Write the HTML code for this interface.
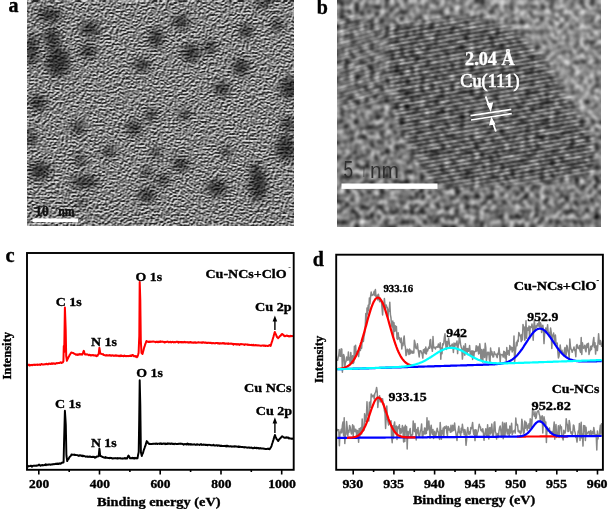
<!DOCTYPE html>
<html><head><meta charset="utf-8"><style>
html,body{margin:0;padding:0;background:#fff;width:608px;height:509px;overflow:hidden}
svg{display:block}
text{font-family:"Liberation Serif","Times New Roman",serif}
</style></head><body>
<svg width="608" height="509" viewBox="0 0 608 509">
<defs>
<filter id="fA" filterUnits="userSpaceOnUse" x="27" y="0" width="267" height="226" color-interpolation-filters="sRGB">
<feTurbulence type="fractalNoise" baseFrequency="0.46 0.58" numOctaves="2" seed="5" result="t"/>
<feColorMatrix in="t" type="matrix" values="1 0 0 0 0  1 0 0 0 0  1 0 0 0 0  0 0 0 0 1" result="g"/>
<feConvolveMatrix in="g" order="3" kernelMatrix="0.8 1 0.3  0.3 0 -0.3  -0.3 -1 -0.8" divisor="1" bias="0.5" preserveAlpha="true" result="e"/>
<feColorMatrix in="e" type="matrix" values="0.72 0 0 0 0.140  0.72 0 0 0 0.140  0.72 0 0 0 0.140  0 0 0 0 1" result="tex"/>
<feGaussianBlur in="SourceGraphic" stdDeviation="3.8" result="bl"/>
<feBlend in="tex" in2="bl" mode="multiply"/>
</filter>
<filter id="fB" filterUnits="userSpaceOnUse" x="337" y="0" width="264" height="227" color-interpolation-filters="sRGB">
<feTurbulence type="fractalNoise" baseFrequency="0.2" numOctaves="2" seed="8" result="t"/>
<feColorMatrix in="t" type="matrix" values="1 0 0 0 0  1 0 0 0 0  1 0 0 0 0  0 0 0 0 1" result="g"/>
<feGaussianBlur in="g" stdDeviation="1.5" result="gb"/>
<feColorMatrix in="gb" type="matrix" values="1.55 0 0 0 -0.300  1.55 0 0 0 -0.300  1.55 0 0 0 -0.300  0 0 0 0 1" result="tex"/>
<feGaussianBlur in="SourceGraphic" stdDeviation="0.6" result="bl"/>
<feBlend in="tex" in2="bl" mode="multiply"/>
</filter>
<filter id="blur3"><feGaussianBlur stdDeviation="3"/></filter>
<filter id="blur8"><feGaussianBlur stdDeviation="8"/></filter>
<clipPath id="clipA"><rect x="27" y="0" width="267" height="226"/></clipPath>
<clipPath id="clipB"><rect x="337" y="0" width="264" height="227"/></clipPath>
</defs>
<rect width="608" height="509" fill="#fff"/>

<g filter="url(#fA)">
<rect x="27" y="0" width="267" height="226" fill="#fff"/>
<ellipse cx="50" cy="15" rx="12" ry="7" fill="#000" opacity="0.6"/>
<ellipse cx="52" cy="38" rx="8" ry="10" fill="#000" opacity="0.6"/>
<ellipse cx="147" cy="173" rx="5" ry="5" fill="#000" opacity="0.6"/>
<ellipse cx="58" cy="62" rx="12" ry="15" fill="#000" opacity="0.6"/>
<ellipse cx="90" cy="29" rx="10" ry="7" fill="#000" opacity="0.6"/>
<ellipse cx="88" cy="51" rx="8" ry="7" fill="#000" opacity="0.6"/>
<ellipse cx="142" cy="65" rx="9" ry="6" fill="#000" opacity="0.6"/>
<ellipse cx="156" cy="38" rx="7" ry="10" fill="#000" opacity="0.6"/>
<ellipse cx="32" cy="50" rx="6" ry="16" fill="#000" opacity="0.6"/>
<ellipse cx="38" cy="103" rx="8" ry="8" fill="#000" opacity="0.6"/>
<ellipse cx="181" cy="22" rx="8" ry="7" fill="#000" opacity="0.6"/>
<ellipse cx="191" cy="53" rx="9" ry="9" fill="#000" opacity="0.6"/>
<ellipse cx="210" cy="47" rx="6" ry="7" fill="#000" opacity="0.6"/>
<ellipse cx="241" cy="67" rx="8" ry="9" fill="#000" opacity="0.6"/>
<ellipse cx="246" cy="31" rx="7" ry="7" fill="#000" opacity="0.6"/>
<ellipse cx="290" cy="88" rx="10" ry="11" fill="#000" opacity="0.6"/>
<ellipse cx="222" cy="89" rx="8" ry="7" fill="#000" opacity="0.6"/>
<ellipse cx="263" cy="3" rx="8" ry="5" fill="#000" opacity="0.6"/>
<ellipse cx="277" cy="25" rx="6" ry="6" fill="#000" opacity="0.6"/>
<ellipse cx="40" cy="171" rx="11" ry="9" fill="#000" opacity="0.6"/>
<ellipse cx="78" cy="128" rx="7" ry="6" fill="#000" opacity="0.6"/>
<ellipse cx="134" cy="128" rx="8" ry="7" fill="#000" opacity="0.6"/>
<ellipse cx="109" cy="152" rx="7" ry="5" fill="#000" opacity="0.6"/>
<ellipse cx="80" cy="160" rx="5" ry="6" fill="#000" opacity="0.6"/>
<ellipse cx="85" cy="182" rx="14" ry="6" fill="#000" opacity="0.6"/>
<ellipse cx="147" cy="195" rx="9" ry="7" fill="#000" opacity="0.6"/>
<ellipse cx="31" cy="138" rx="5" ry="8" fill="#000" opacity="0.6"/>
<ellipse cx="81" cy="203" rx="6" ry="3" fill="#000" opacity="0.6"/>
<ellipse cx="217" cy="188" rx="10" ry="8" fill="#000" opacity="0.6"/>
<ellipse cx="258" cy="185" rx="9" ry="16" fill="#000" opacity="0.6"/>
<ellipse cx="286" cy="148" rx="10" ry="13" fill="#000" opacity="0.6"/>
<ellipse cx="288" cy="124" rx="7" ry="7" fill="#000" opacity="0.6"/>
<ellipse cx="181" cy="164" rx="8" ry="7" fill="#000" opacity="0.6"/>
<ellipse cx="163" cy="180" rx="6" ry="6" fill="#000" opacity="0.6"/>
<ellipse cx="226" cy="152" rx="5" ry="5" fill="#000" opacity="0.6"/>
<ellipse cx="255" cy="168" rx="5" ry="5" fill="#000" opacity="0.6"/>
<ellipse cx="185" cy="115" rx="6" ry="5" fill="#000" opacity="0.6"/>
<ellipse cx="151" cy="115" rx="6" ry="6" fill="#000" opacity="0.6"/>
<ellipse cx="156" cy="153" rx="5" ry="5" fill="#000" opacity="0.6"/>
</g>
<rect x="32.5" y="218.5" width="45.5" height="3.6" fill="#fff"/>
<text x="35.2" y="215.8" font-size="14.5" text-anchor="start" fill="#111" font-weight="bold" stroke="#111" stroke-width="0.3" textLength="13.6" lengthAdjust="spacingAndGlyphs">10</text>
<text x="58.3" y="215.8" font-size="14.5" text-anchor="start" fill="#111" font-weight="bold" stroke="#111" stroke-width="0.3" textLength="16.4" lengthAdjust="spacingAndGlyphs">nm</text>
<filter id="mb" x="-20%" y="-20%" width="140%" height="140%"><feGaussianBlur stdDeviation="4"/></filter>
<mask id="mP" maskUnits="userSpaceOnUse" x="337" y="0" width="264" height="227"><path d="M389,29 L430,22 L468,18 L513,29 L542,56 L563,90 L580,118 L592,140 L592,172 L540,180 L470,185 L432,183 L410,145 L396,115 L388,70 Z" fill="#fff" filter="url(#mb)"/></mask>
<mask id="mL" maskUnits="userSpaceOnUse" x="337" y="0" width="264" height="227"><path d="M337,12 L389,29 L388,70 L393,100 L337,108 Z" fill="#fff" filter="url(#mb)"/></mask>
<g filter="url(#fB)">
<rect x="337" y="0" width="264" height="227" fill="#fff"/>
<g mask="url(#mP)"><rect x="337" y="0" width="264" height="227" fill="#f8f8f8"/>
<path d="M330,-82.0 L610,-129.0 M330,-77.9 L610,-124.9 M330,-73.8 L610,-120.8 M330,-69.7 L610,-116.7 M330,-65.6 L610,-112.6 M330,-61.5 L610,-108.5 M330,-57.4 L610,-104.4 M330,-53.3 L610,-100.3 M330,-49.2 L610,-96.2 M330,-45.1 L610,-92.1 M330,-41.0 L610,-88.0 M330,-36.9 L610,-83.9 M330,-32.8 L610,-79.8 M330,-28.7 L610,-75.7 M330,-24.6 L610,-71.6 M330,-20.5 L610,-67.5 M330,-16.4 L610,-63.4 M330,-12.3 L610,-59.3 M330,-8.2 L610,-55.2 M330,-4.1 L610,-51.1 M330,0.0 L610,-47.0 M330,4.1 L610,-42.9 M330,8.2 L610,-38.8 M330,12.3 L610,-34.7 M330,16.4 L610,-30.6 M330,20.5 L610,-26.5 M330,24.6 L610,-22.4 M330,28.7 L610,-18.3 M330,32.8 L610,-14.2 M330,36.9 L610,-10.1 M330,41.0 L610,-6.0 M330,45.1 L610,-1.9 M330,49.2 L610,2.2 M330,53.3 L610,6.3 M330,57.4 L610,10.4 M330,61.5 L610,14.5 M330,65.6 L610,18.6 M330,69.7 L610,22.7 M330,73.8 L610,26.8 M330,77.9 L610,30.9 M330,82.0 L610,35.0 M330,86.1 L610,39.1 M330,90.2 L610,43.2 M330,94.3 L610,47.3 M330,98.4 L610,51.4 M330,102.5 L610,55.5 M330,106.6 L610,59.6 M330,110.7 L610,63.7 M330,114.8 L610,67.8 M330,118.9 L610,71.9 M330,123.0 L610,76.0 M330,127.1 L610,80.1 M330,131.2 L610,84.2 M330,135.3 L610,88.3 M330,139.4 L610,92.4 M330,143.5 L610,96.5 M330,147.6 L610,100.6 M330,151.7 L610,104.7 M330,155.8 L610,108.8 M330,159.9 L610,112.9 M330,164.0 L610,117.0 M330,168.1 L610,121.1 M330,172.2 L610,125.2 M330,176.3 L610,129.3 M330,180.4 L610,133.4 M330,184.5 L610,137.5 M330,188.6 L610,141.6 M330,192.7 L610,145.7 M330,196.8 L610,149.8 M330,200.9 L610,153.9 M330,205.0 L610,158.0 M330,209.1 L610,162.1 M330,213.2 L610,166.2 M330,217.3 L610,170.3 M330,221.4 L610,174.4 M330,225.5 L610,178.5 M330,229.6 L610,182.6 M330,233.7 L610,186.7 M330,237.8 L610,190.8 M330,241.9 L610,194.9 M330,246.0 L610,199.0 M330,250.1 L610,203.1 M330,254.2 L610,207.2 M330,258.3 L610,211.3 M330,262.4 L610,215.4 M330,266.5 L610,219.5 M330,270.6 L610,223.6 M330,274.7 L610,227.7 M330,278.8 L610,231.8 M330,282.9 L610,235.9 M330,287.0 L610,240.0 M330,291.1 L610,244.1 M330,295.2 L610,248.2 M330,299.3 L610,252.3 M330,303.4 L610,256.4 M330,307.5 L610,260.5 M330,311.6 L610,264.6 M330,315.7 L610,268.7 M330,319.8 L610,272.8 M330,323.9 L610,276.9 M330,328.0 L610,281.0 M330,332.1 L610,285.1 M330,336.2 L610,289.2 M330,340.3 L610,293.3 M330,344.4 L610,297.4 M330,348.5 L610,301.5 M330,352.6 L610,305.6 M330,356.7 L610,309.7 M330,360.8 L610,313.8 M330,364.9 L610,317.9 M330,369.0 L610,322.0 M330,373.1 L610,326.1 M330,377.2 L610,330.2 M330,381.3 L610,334.3 M330,385.4 L610,338.4 M330,389.5 L610,342.5 M330,393.6 L610,346.6 M330,397.7 L610,350.7 M330,401.8 L610,354.8 M330,405.9 L610,358.9 M330,410.0 L610,363.0 M330,414.1 L610,367.1 M330,418.2 L610,371.2 M330,422.3 L610,375.3 M330,426.4 L610,379.4 M330,430.5 L610,383.5 M330,434.6 L610,387.6 M330,438.7 L610,391.7 M330,442.8 L610,395.8 M330,446.9 L610,399.9 M330,451.0 L610,404.0 M330,455.1 L610,408.1 M330,459.2 L610,412.2 M330,463.3 L610,416.3 M330,467.4 L610,420.4 M330,471.5 L610,424.5 M330,475.6 L610,428.6 M330,479.7 L610,432.7 M330,483.8 L610,436.8 M330,487.9 L610,440.9" stroke="#000" stroke-width="2" opacity="0.36" fill="none"/>
</g>
<g mask="url(#mL)">
<path d="M330,-80.0 L610,-155.0 M330,-76.0 L610,-151.0 M330,-72.0 L610,-147.0 M330,-68.0 L610,-143.0 M330,-64.0 L610,-139.0 M330,-60.0 L610,-135.0 M330,-56.0 L610,-131.0 M330,-52.0 L610,-127.0 M330,-48.0 L610,-123.0 M330,-44.0 L610,-119.0 M330,-40.0 L610,-115.0 M330,-36.0 L610,-111.0 M330,-32.0 L610,-107.0 M330,-28.0 L610,-103.0 M330,-24.0 L610,-99.0 M330,-20.0 L610,-95.0 M330,-16.0 L610,-91.0 M330,-12.0 L610,-87.0 M330,-8.0 L610,-83.0 M330,-4.0 L610,-79.0 M330,0.0 L610,-75.0 M330,4.0 L610,-71.0 M330,8.0 L610,-67.0 M330,12.0 L610,-63.0 M330,16.0 L610,-59.0 M330,20.0 L610,-55.0 M330,24.0 L610,-51.0 M330,28.0 L610,-47.0 M330,32.0 L610,-43.0 M330,36.0 L610,-39.0 M330,40.0 L610,-35.0 M330,44.0 L610,-31.0 M330,48.0 L610,-27.0 M330,52.0 L610,-23.0 M330,56.0 L610,-19.0 M330,60.0 L610,-15.0 M330,64.0 L610,-11.0 M330,68.0 L610,-7.0 M330,72.0 L610,-3.0 M330,76.0 L610,1.0 M330,80.0 L610,5.0 M330,84.0 L610,9.0 M330,88.0 L610,13.0 M330,92.0 L610,17.0 M330,96.0 L610,21.0 M330,100.0 L610,25.0 M330,104.0 L610,29.0 M330,108.0 L610,33.0 M330,112.0 L610,37.0 M330,116.0 L610,41.0 M330,120.0 L610,45.0 M330,124.0 L610,49.0 M330,128.0 L610,53.0 M330,132.0 L610,57.0 M330,136.0 L610,61.0 M330,140.0 L610,65.0 M330,144.0 L610,69.0 M330,148.0 L610,73.0 M330,152.0 L610,77.0 M330,156.0 L610,81.0 M330,160.0 L610,85.0 M330,164.0 L610,89.0 M330,168.0 L610,93.0 M330,172.0 L610,97.0 M330,176.0 L610,101.0 M330,180.0 L610,105.0 M330,184.0 L610,109.0 M330,188.0 L610,113.0 M330,192.0 L610,117.0 M330,196.0 L610,121.0 M330,200.0 L610,125.0 M330,204.0 L610,129.0 M330,208.0 L610,133.0 M330,212.0 L610,137.0 M330,216.0 L610,141.0 M330,220.0 L610,145.0 M330,224.0 L610,149.0 M330,228.0 L610,153.0 M330,232.0 L610,157.0 M330,236.0 L610,161.0 M330,240.0 L610,165.0 M330,244.0 L610,169.0 M330,248.0 L610,173.0 M330,252.0 L610,177.0 M330,256.0 L610,181.0 M330,260.0 L610,185.0 M330,264.0 L610,189.0 M330,268.0 L610,193.0 M330,272.0 L610,197.0 M330,276.0 L610,201.0 M330,280.0 L610,205.0 M330,284.0 L610,209.0 M330,288.0 L610,213.0 M330,292.0 L610,217.0 M330,296.0 L610,221.0 M330,300.0 L610,225.0 M330,304.0 L610,229.0 M330,308.0 L610,233.0 M330,312.0 L610,237.0 M330,316.0 L610,241.0 M330,320.0 L610,245.0 M330,324.0 L610,249.0 M330,328.0 L610,253.0 M330,332.0 L610,257.0 M330,336.0 L610,261.0 M330,340.0 L610,265.0 M330,344.0 L610,269.0 M330,348.0 L610,273.0 M330,352.0 L610,277.0 M330,356.0 L610,281.0 M330,360.0 L610,285.0 M330,364.0 L610,289.0 M330,368.0 L610,293.0 M330,372.0 L610,297.0 M330,376.0 L610,301.0 M330,380.0 L610,305.0 M330,384.0 L610,309.0 M330,388.0 L610,313.0 M330,392.0 L610,317.0 M330,396.0 L610,321.0 M330,400.0 L610,325.0 M330,404.0 L610,329.0 M330,408.0 L610,333.0 M330,412.0 L610,337.0 M330,416.0 L610,341.0 M330,420.0 L610,345.0 M330,424.0 L610,349.0 M330,428.0 L610,353.0 M330,432.0 L610,357.0 M330,436.0 L610,361.0 M330,440.0 L610,365.0 M330,444.0 L610,369.0 M330,448.0 L610,373.0 M330,452.0 L610,377.0 M330,456.0 L610,381.0 M330,460.0 L610,385.0 M330,464.0 L610,389.0 M330,468.0 L610,393.0 M330,472.0 L610,397.0 M330,476.0 L610,401.0" stroke="#000" stroke-width="1.8" opacity="0.12" fill="none"/>
</g>
</g>
<g clip-path="url(#clipB)" filter="url(#blur8)" opacity="0.16"><path d="M520,0 L601,0 L601,130 L575,120 L560,85 L535,50 L510,22 L420,15 L400,0 Z" fill="#fff"/></g>
<rect x="341.5" y="183.5" width="96" height="5.4" fill="#fff"/>
<text x="343.6" y="178" font-size="23" fill="#303030" textLength="9.6" lengthAdjust="spacingAndGlyphs" style="font-family:'Liberation Sans',sans-serif">5</text>
<path d="M364,167 L363.7,177" stroke="#333" stroke-width="1.4" opacity="0.4"/>
<text x="370" y="178" font-size="22.7" fill="#303030" textLength="29" lengthAdjust="spacingAndGlyphs" style="font-family:'Liberation Sans',sans-serif">nm</text>
<path d="M470.5,115.6 L511.3,109.4 M471,120 L511.8,113.6" stroke="#fff" stroke-width="1.7"/>
<path d="M485.6,96.4 L489.6,107 M495.9,131.5 L492.2,121" stroke="#fff" stroke-width="1.8"/>
<path d="M486.6,103.5 L490.8,112 L493.2,102.2 Z M489,125.5 L491.3,116.6 L495.6,124.4 Z" fill="#fff"/>
<text x="465.1" y="65.3" font-size="18" text-anchor="start" fill="#fff" font-weight="bold" stroke="#fff" stroke-width="0.35" textLength="49.4" lengthAdjust="spacingAndGlyphs">2.04 Å</text>
<text x="460.3" y="87.1" font-size="19" text-anchor="start" fill="#fff" font-weight="normal" stroke="#fff" stroke-width="0.7" textLength="59.4" lengthAdjust="spacingAndGlyphs">Cu(111)</text>
<text x="8.6" y="12.1" font-size="20" text-anchor="start" fill="#000" font-weight="bold" stroke="#000" stroke-width="0.35" >a</text>
<text x="316.8" y="13.6" font-size="20" text-anchor="start" fill="#000" font-weight="bold" stroke="#000" stroke-width="0.35" >b</text>
<text x="5.6" y="261.6" font-size="20.5" text-anchor="start" fill="#000" font-weight="bold" stroke="#000" stroke-width="0.35" >c</text>
<text x="312.8" y="265.8" font-size="20" text-anchor="start" fill="#000" font-weight="bold" stroke="#000" stroke-width="0.35" >d</text>
<polyline points="27.5,365.2 28.0,365.0 28.5,365.0 29.0,364.6 29.5,365.5 30.0,365.3 30.5,365.0 31.0,365.2 31.5,365.1 32.0,364.8 32.5,365.2 33.0,364.9 33.5,364.8 34.0,364.7 34.5,365.0 35.0,364.8 35.5,364.9 36.0,364.7 36.5,364.8 37.0,364.5 37.5,364.9 38.0,364.7 38.5,364.7 39.0,364.7 39.5,364.4 40.0,364.6 40.5,365.0 41.0,364.2 41.5,364.1 42.0,364.1 42.5,364.6 43.0,364.4 43.5,364.6 44.0,364.4 44.5,364.3 45.0,364.3 45.5,364.1 46.0,364.3 46.5,363.8 47.0,363.9 47.5,364.1 48.0,364.4 48.5,363.8 49.0,363.6 49.5,363.7 50.0,364.0 50.5,363.7 51.0,364.0 51.5,363.3 52.0,363.9 52.5,363.8 53.0,363.2 53.5,363.6 54.0,363.7 54.5,363.5 55.0,363.4 55.5,363.9 56.0,363.4 56.5,363.2 57.0,363.0 57.5,363.3 58.0,363.0 58.5,363.0 59.0,363.0 59.5,363.1 60.0,362.6 60.5,362.5 61.0,362.2 61.5,363.0 62.0,362.7 62.5,362.6 63.0,362.0 63.4,361.5 63.5,357.7 63.8,346.0 64.0,348.7 64.2,352.0 64.5,333.3 64.9,307.5 65.0,310.4 65.5,324.3 65.7,330.0 66.0,345.8 66.2,356.0 66.5,357.9 66.9,360.8 67.0,360.4 67.5,359.4 68.0,358.4 68.5,357.0 69.0,356.5 69.5,355.2 70.0,354.6 70.5,353.6 71.0,352.9 71.2,352.6 71.5,352.6 72.0,352.7 72.5,352.9 73.0,353.1 73.5,353.1 74.0,353.6 74.5,353.9 75.0,354.1 75.5,354.2 76.0,354.8 76.5,354.5 77.0,354.6 77.5,355.0 78.0,354.3 78.5,354.7 79.0,354.2 79.5,354.5 80.0,353.9 80.5,354.5 81.0,354.3 81.5,354.1 82.0,354.6 82.5,354.2 83.0,352.9 83.5,351.4 83.8,350.8 84.0,351.4 84.5,353.1 85.0,354.4 85.5,354.3 86.0,354.4 86.5,354.5 87.0,354.3 87.5,354.6 88.0,354.7 88.5,355.0 89.0,355.2 89.5,354.8 90.0,355.0 90.5,355.0 91.0,355.6 91.5,355.1 92.0,355.3 92.5,355.1 93.0,355.1 93.5,355.4 94.0,355.3 94.5,355.6 95.0,355.2 95.5,355.7 96.0,355.4 96.5,356.1 97.0,355.7 97.5,355.8 98.0,354.7 98.5,354.4 98.7,354.0 99.0,351.2 99.4,347.8 99.5,348.4 100.0,351.9 100.2,353.2 100.5,353.5 101.0,353.7 101.5,354.0 102.0,354.0 102.5,354.3 103.0,354.1 103.5,354.9 104.0,354.9 104.5,355.1 105.0,355.3 105.5,355.5 106.0,355.4 106.5,355.1 107.0,355.4 107.5,355.5 108.0,355.2 108.5,355.6 109.0,355.5 109.5,355.0 110.0,355.5 110.5,355.2 111.0,355.7 111.5,355.7 112.0,355.3 112.5,355.3 113.0,355.6 113.5,355.5 114.0,355.9 114.5,355.7 115.0,355.6 115.5,355.7 116.0,355.2 116.5,355.7 117.0,355.9 117.5,355.7 118.0,355.6 118.5,355.9 119.0,356.2 119.5,355.8 120.0,355.6 120.5,356.1 121.0,355.4 121.5,356.0 122.0,355.8 122.5,356.1 123.0,355.7 123.5,356.2 124.0,356.0 124.5,355.6 125.0,356.0 125.5,355.9 126.0,356.3 126.5,356.0 127.0,356.0 127.5,355.9 128.0,356.2 128.5,356.1 129.0,356.1 129.5,355.8 130.0,356.0 130.5,356.1 131.0,355.4 131.5,356.0 132.0,355.5 132.5,355.1 133.0,355.0 133.5,355.7 134.0,356.2 134.5,356.1 135.0,355.9 135.5,356.6 136.0,356.2 136.5,356.3 137.0,357.1 137.5,356.5 138.0,355.1 138.5,353.2 138.6,353.0 139.0,342.8 139.3,336.0 139.5,308.8 139.7,282.0 140.0,290.7 140.3,300.0 140.5,316.0 140.8,340.0 141.0,343.9 141.5,353.0 142.0,353.2 142.5,354.0 143.0,351.9 143.5,350.2 144.0,348.0 144.5,346.7 145.0,344.9 145.5,343.7 146.0,342.2 146.5,341.0 147.0,341.7 147.5,341.7 148.0,341.6 148.5,342.0 149.0,342.0 149.5,341.6 150.0,342.0 150.5,341.6 151.0,341.8 151.5,341.6 152.0,341.8 152.5,341.5 153.0,341.5 153.5,341.6 154.0,341.7 154.5,341.8 155.0,341.8 155.5,342.2 156.0,342.0 156.5,341.8 157.0,342.0 157.5,341.7 158.0,342.2 158.5,342.0 159.0,341.6 159.5,342.0 160.0,342.1 160.5,341.3 161.0,341.7 161.5,341.8 162.0,341.5 162.5,341.7 163.0,341.7 163.5,342.0 164.0,342.0 164.5,342.5 165.0,341.9 165.5,342.2 166.0,342.0 166.5,342.0 167.0,341.7 167.5,341.6 168.0,341.8 168.5,342.2 169.0,342.3 169.5,342.1 170.0,342.0 170.5,341.8 171.0,342.4 171.5,342.3 172.0,341.9 172.5,342.0 173.0,341.8 173.5,342.4 174.0,342.2 174.5,342.1 175.0,342.2 175.5,342.2 176.0,342.0 176.5,341.8 177.0,341.8 177.5,341.7 178.0,342.2 178.5,342.6 179.0,341.8 179.5,342.2 180.0,342.3 180.5,342.0 181.0,342.2 181.5,342.0 182.0,342.5 182.5,342.1 183.0,342.2 183.5,342.4 184.0,342.1 184.5,341.8 185.0,342.1 185.5,342.4 186.0,342.2 186.5,342.3 187.0,342.0 187.5,342.3 188.0,342.5 188.5,342.3 189.0,342.7 189.5,342.3 190.0,342.1 190.5,342.0 191.0,342.6 191.5,342.3 192.0,342.6 192.5,342.5 193.0,342.7 193.5,342.7 194.0,342.3 194.5,342.5 195.0,342.7 195.5,342.2 196.0,342.8 196.5,342.7 197.0,342.7 197.5,342.4 198.0,342.5 198.5,342.2 199.0,342.5 199.5,342.4 200.0,342.5 200.5,342.4 201.0,342.6 201.5,342.8 202.0,342.3 202.5,342.8 203.0,342.2 203.5,342.2 204.0,342.6 204.5,342.7 205.0,342.8 205.5,342.4 206.0,342.7 206.5,342.8 207.0,343.1 207.5,342.8 208.0,343.0 208.5,342.7 209.0,342.8 209.5,342.8 210.0,343.1 210.5,342.7 211.0,342.8 211.5,343.1 212.0,343.4 212.5,343.1 213.0,343.1 213.5,343.0 214.0,343.3 214.5,343.2 215.0,343.5 215.5,343.2 216.0,343.0 216.5,343.1 217.0,343.0 217.5,343.0 218.0,343.6 218.5,343.5 219.0,343.1 219.5,343.7 220.0,343.4 220.5,343.2 221.0,343.5 221.5,343.4 222.0,343.3 222.5,343.0 223.0,343.5 223.5,343.6 224.0,343.0 224.5,343.7 225.0,343.7 225.5,343.5 226.0,343.7 226.5,343.6 227.0,343.5 227.5,343.6 228.0,344.0 228.5,343.4 229.0,343.8 229.5,343.8 230.0,343.8 230.5,343.7 231.0,343.5 231.5,343.7 232.0,343.9 232.5,344.0 233.0,343.8 233.5,344.7 234.0,343.9 234.5,344.1 235.0,344.0 235.5,344.0 236.0,344.4 236.5,344.1 237.0,344.5 237.5,344.5 238.0,344.0 238.5,344.5 239.0,344.2 239.5,344.9 240.0,344.3 240.5,344.2 241.0,344.0 241.5,344.2 242.0,344.3 242.5,344.3 243.0,344.3 243.5,344.4 244.0,344.5 244.5,344.9 245.0,344.3 245.5,344.5 246.0,344.5 246.5,344.4 247.0,344.5 247.5,344.6 248.0,345.0 248.5,344.8 249.0,344.7 249.5,345.0 250.0,345.0 250.5,344.9 251.0,345.1 251.5,344.8 252.0,345.2 252.5,345.2 253.0,345.0 253.5,344.8 254.0,345.5 254.5,345.2 255.0,345.2 255.5,345.1 256.0,345.4 256.5,345.2 257.0,345.4 257.5,345.5 258.0,345.2 258.5,345.4 259.0,345.5 259.5,345.5 260.0,345.6 260.5,345.8 261.0,345.8 261.5,345.7 262.0,345.6 262.5,345.4 263.0,345.5 263.5,345.6 264.0,345.9 264.5,345.7 265.0,345.5 265.5,346.0 266.0,345.7 266.5,345.7 267.0,345.9 267.5,346.1 268.0,346.0 268.5,345.4 269.0,345.4 269.5,345.0 270.0,345.3 270.5,346.0 271.0,344.8 271.5,342.9 272.0,341.7 272.5,340.0 273.0,338.2 273.5,336.6 274.0,334.7 274.5,332.9 274.8,332.0 275.0,332.7 275.5,333.6 276.0,334.7 276.5,336.0 277.0,337.0 277.5,337.5 278.0,337.9 278.2,338.2 278.5,337.5 279.0,337.3 279.5,336.7 280.0,336.0 280.5,335.8 281.0,335.3 281.5,334.4 282.0,334.1 282.2,334.0 282.5,334.3 283.0,334.7 283.5,334.8 284.0,335.9 284.5,336.0 285.0,336.2 285.5,336.1 286.0,335.7 286.5,335.7 287.0,335.5 287.5,335.9 288.0,336.0 288.5,336.1 289.0,336.5 289.5,336.3 290.0,336.3 290.5,335.9 291.0,336.3 291.5,336.0 292.0,336.0 292.5,336.1 293.0,336.0" fill="none" stroke="#ff0000" stroke-width="2" stroke-linejoin="round"/>
<polyline points="27.5,466.8 28.0,465.8 28.5,466.4 29.0,466.1 29.5,466.1 30.0,466.1 30.5,465.7 31.0,466.0 31.5,465.8 32.0,466.7 32.5,466.0 33.0,465.8 33.5,465.8 34.0,465.7 34.5,465.6 35.0,465.7 35.5,465.8 36.0,465.6 36.5,465.8 37.0,465.5 37.5,465.5 38.0,465.5 38.5,465.2 39.0,464.6 39.5,465.0 40.0,465.4 40.5,465.8 41.0,465.3 41.5,465.2 42.0,465.4 42.5,465.0 43.0,465.1 43.5,465.3 44.0,465.2 44.5,465.0 45.0,465.1 45.5,464.3 46.0,465.1 46.5,464.6 47.0,464.4 47.5,464.8 48.0,464.8 48.5,464.5 49.0,464.4 49.5,464.6 50.0,464.5 50.5,464.8 51.0,464.6 51.5,464.4 52.0,464.6 52.5,464.3 53.0,464.1 53.5,464.3 54.0,464.3 54.5,464.1 55.0,463.9 55.5,464.1 56.0,463.5 56.5,464.1 57.0,464.0 57.5,463.5 58.0,463.9 58.5,463.6 59.0,463.9 59.5,463.3 60.0,463.5 60.5,463.8 61.0,463.6 61.5,462.8 62.0,462.9 62.5,462.7 63.0,462.2 63.5,462.4 63.6,462.0 64.0,444.5 64.1,440.0 64.5,425.7 64.9,410.7 65.0,412.2 65.5,419.9 65.8,425.0 66.0,435.2 66.4,455.0 66.5,456.0 67.0,459.6 67.2,461.0 67.5,460.3 68.0,459.5 68.5,459.1 69.0,458.0 69.5,457.2 70.0,456.6 70.5,456.1 71.0,455.6 71.5,454.5 71.8,454.4 72.0,454.4 72.5,454.8 73.0,454.7 73.5,454.7 74.0,454.6 74.5,454.9 75.0,454.8 75.5,455.1 76.0,455.0 76.5,455.1 77.0,455.1 77.5,455.3 78.0,455.3 78.5,455.9 79.0,455.8 79.5,455.8 80.0,455.1 80.5,455.6 81.0,455.6 81.5,455.9 82.0,455.4 82.5,456.2 83.0,456.2 83.5,455.8 84.0,455.9 84.5,456.1 85.0,456.3 85.5,456.5 86.0,456.8 86.5,456.4 87.0,456.6 87.5,456.5 88.0,456.9 88.5,456.7 89.0,456.9 89.5,456.4 90.0,456.7 90.5,456.6 91.0,457.1 91.5,457.0 92.0,456.8 92.5,456.8 93.0,457.1 93.5,456.8 94.0,456.8 94.5,457.2 95.0,457.7 95.5,457.1 96.0,457.2 96.5,456.7 97.0,456.5 97.5,456.6 98.0,456.5 98.5,456.1 98.7,456.0 99.0,452.9 99.4,448.6 99.5,449.2 100.0,454.0 100.2,456.0 100.5,455.9 101.0,456.2 101.5,456.3 102.0,456.6 102.5,457.1 103.0,457.0 103.5,457.3 104.0,457.5 104.5,457.7 105.0,457.9 105.5,457.1 106.0,457.8 106.5,457.6 107.0,457.7 107.5,457.9 108.0,458.0 108.5,458.0 109.0,457.9 109.5,458.2 110.0,457.8 110.5,457.9 111.0,458.1 111.5,457.9 112.0,458.5 112.5,458.3 113.0,458.6 113.5,458.1 114.0,458.1 114.5,458.2 115.0,458.2 115.5,458.1 116.0,458.3 116.5,458.2 117.0,458.6 117.5,458.1 118.0,458.5 118.5,458.1 119.0,458.1 119.5,458.2 120.0,458.1 120.5,458.4 121.0,458.6 121.5,458.4 122.0,458.5 122.5,458.7 123.0,458.5 123.5,458.5 124.0,458.4 124.5,458.1 125.0,458.6 125.5,458.1 126.0,458.6 126.5,458.5 127.0,458.5 127.5,457.5 128.0,456.3 128.5,455.5 129.0,456.3 129.5,457.3 130.0,458.3 130.5,458.3 131.0,458.3 131.5,458.1 132.0,458.3 132.5,457.8 133.0,458.3 133.5,458.0 134.0,458.5 134.5,458.6 135.0,457.9 135.5,458.3 136.0,458.3 136.5,458.1 137.0,458.4 137.5,458.3 138.0,455.3 138.5,453.0 138.7,452.0 139.0,432.8 139.2,420.0 139.5,396.3 139.7,380.3 140.0,392.4 140.3,405.0 140.5,420.6 140.9,452.0 141.0,452.8 141.5,454.7 141.8,456.0 142.0,455.2 142.5,453.9 143.0,453.0 143.5,451.0 144.0,449.5 144.5,448.1 145.0,446.5 145.5,445.5 146.0,443.4 146.5,442.2 146.8,441.1 147.0,441.5 147.5,441.8 148.0,443.1 148.5,443.3 149.0,444.0 149.5,443.8 150.0,443.8 150.5,444.0 151.0,444.1 151.5,444.0 152.0,444.1 152.5,443.9 153.0,443.7 153.5,443.9 154.0,443.8 154.5,443.6 155.0,443.6 155.5,443.9 156.0,443.7 156.5,443.5 157.0,443.8 157.5,444.0 158.0,443.6 158.5,443.6 159.0,443.6 159.5,443.9 160.0,443.3 160.5,443.7 161.0,443.9 161.5,443.5 162.0,444.0 162.5,443.8 163.0,443.6 163.5,443.7 164.0,443.4 164.5,443.6 165.0,444.1 165.5,443.5 166.0,444.1 166.5,443.7 167.0,444.0 167.5,443.8 168.0,443.3 168.5,443.6 169.0,443.8 169.5,443.5 170.0,443.5 170.5,443.9 171.0,443.6 171.5,443.4 172.0,443.7 172.5,444.0 173.0,443.7 173.5,444.0 174.0,444.2 174.5,443.8 175.0,443.6 175.5,443.6 176.0,443.8 176.5,444.1 177.0,443.9 177.5,444.0 178.0,443.8 178.5,443.9 179.0,443.8 179.5,443.8 180.0,443.9 180.5,443.6 181.0,443.8 181.5,443.7 182.0,443.8 182.5,444.1 183.0,444.0 183.5,444.7 184.0,444.3 184.5,443.9 185.0,444.3 185.5,444.2 186.0,444.0 186.5,444.4 187.0,444.0 187.5,443.5 188.0,444.4 188.5,444.1 189.0,444.6 189.5,444.1 190.0,444.0 190.5,444.6 191.0,444.1 191.5,444.4 192.0,444.7 192.5,444.4 193.0,444.4 193.5,444.4 194.0,444.6 194.5,444.3 195.0,444.6 195.5,444.6 196.0,445.0 196.5,444.4 197.0,444.3 197.5,444.7 198.0,444.5 198.5,444.6 199.0,444.6 199.5,444.9 200.0,444.5 200.5,444.6 201.0,444.1 201.5,444.5 202.0,445.0 202.5,444.6 203.0,444.6 203.5,444.5 204.0,444.9 204.5,444.8 205.0,444.6 205.5,445.0 206.0,444.9 206.5,445.0 207.0,444.7 207.5,445.3 208.0,445.0 208.5,444.9 209.0,444.8 209.5,444.9 210.0,445.0 210.5,445.0 211.0,445.3 211.5,445.2 212.0,445.4 212.5,445.3 213.0,445.2 213.5,444.8 214.0,445.3 214.5,445.5 215.0,445.4 215.5,445.5 216.0,445.3 216.5,445.3 217.0,445.2 217.5,445.8 218.0,445.5 218.5,445.4 219.0,445.3 219.5,445.6 220.0,446.0 220.5,445.8 221.0,445.5 221.5,446.0 222.0,446.1 222.5,446.0 223.0,446.0 223.5,446.1 224.0,446.0 224.5,446.1 225.0,445.8 225.5,446.3 226.0,446.1 226.5,446.5 227.0,445.6 227.5,446.3 228.0,446.4 228.5,446.1 229.0,446.3 229.5,446.4 230.0,446.4 230.5,446.2 231.0,446.3 231.5,446.6 232.0,446.7 232.5,446.4 233.0,446.5 233.5,446.5 234.0,446.7 234.5,446.3 235.0,446.3 235.5,446.6 236.0,446.4 236.5,446.5 237.0,446.7 237.5,446.8 238.0,446.5 238.5,447.0 239.0,446.4 239.5,447.0 240.0,446.9 240.5,446.7 241.0,447.1 241.5,446.9 242.0,446.9 242.5,447.0 243.0,447.2 243.5,447.1 244.0,447.2 244.5,447.5 245.0,447.1 245.5,447.2 246.0,447.2 246.5,447.6 247.0,447.6 247.5,447.7 248.0,447.5 248.5,447.5 249.0,447.7 249.5,447.5 250.0,447.8 250.5,447.8 251.0,447.5 251.5,447.7 252.0,447.7 252.5,448.2 253.0,448.4 253.5,447.9 254.0,447.9 254.5,447.5 255.0,448.0 255.5,448.0 256.0,447.8 256.5,448.3 257.0,447.8 257.5,448.1 258.0,448.2 258.5,448.0 259.0,448.5 259.5,448.6 260.0,448.0 260.5,448.1 261.0,448.6 261.5,448.5 262.0,448.5 262.5,448.5 263.0,448.5 263.5,448.5 264.0,448.8 264.5,448.7 265.0,449.0 265.5,449.0 266.0,448.9 266.5,449.0 267.0,449.0 267.5,448.9 268.0,448.5 268.5,449.0 269.0,448.9 269.5,449.2 269.8,448.9 270.0,448.7 270.5,447.8 271.0,447.2 271.5,446.0 272.0,444.3 272.5,442.8 273.0,441.1 273.5,439.6 274.0,437.9 274.5,436.4 274.9,435.0 275.0,435.2 275.5,436.5 276.0,437.7 276.5,439.0 277.0,439.3 277.5,440.0 278.0,440.8 278.2,441.0 278.5,440.6 279.0,439.8 279.5,439.0 280.0,438.5 280.5,438.3 281.0,437.5 281.5,436.9 282.0,436.3 282.5,436.4 283.0,436.8 283.5,437.1 284.0,437.6 284.5,437.8 285.0,437.4 285.5,437.8 286.0,437.9 286.5,437.3 287.0,437.3 287.5,437.6 288.0,437.9 288.5,437.6 289.0,438.5 289.5,438.2 290.0,438.5 290.5,438.6 291.0,438.5 291.5,438.7 292.0,439.0 292.5,438.6 293.0,438.9" fill="none" stroke="#000" stroke-width="1.95" stroke-linejoin="round"/>
<rect x="27" y="253" width="266.7" height="216.8" fill="none" stroke="#000" stroke-width="1.9"/>
<path d="M38.8,469.8 L38.8,474.40000000000003 M69.2,469.8 L69.2,472.0 M99.5,469.8 L99.5,474.40000000000003 M129.9,469.8 L129.9,472.0 M160.2,469.8 L160.2,474.40000000000003 M190.6,469.8 L190.6,472.0 M221.0,469.8 L221.0,474.40000000000003 M251.3,469.8 L251.3,472.0 M281.7,469.8 L281.7,474.40000000000003" stroke="#000" stroke-width="1.6"/>
<text x="29.0" y="487.7" font-size="13" text-anchor="start" fill="#000" font-weight="bold" stroke="#000" stroke-width="0.35" textLength="20.2" lengthAdjust="spacingAndGlyphs">200</text>
<text x="89.7" y="487.7" font-size="13" text-anchor="start" fill="#000" font-weight="bold" stroke="#000" stroke-width="0.35" textLength="20.2" lengthAdjust="spacingAndGlyphs">400</text>
<text x="150.4" y="487.7" font-size="13" text-anchor="start" fill="#000" font-weight="bold" stroke="#000" stroke-width="0.35" textLength="20.2" lengthAdjust="spacingAndGlyphs">600</text>
<text x="211.2" y="487.7" font-size="13" text-anchor="start" fill="#000" font-weight="bold" stroke="#000" stroke-width="0.35" textLength="20.2" lengthAdjust="spacingAndGlyphs">800</text>
<text x="268.2" y="487.7" font-size="13" text-anchor="start" fill="#000" font-weight="bold" stroke="#000" stroke-width="0.35" textLength="27.6" lengthAdjust="spacingAndGlyphs">1000</text>
<text x="96.9" y="506.3" font-size="13.5" text-anchor="start" fill="#000" font-weight="bold" stroke="#000" stroke-width="0.35" textLength="123.7" lengthAdjust="spacingAndGlyphs">Binding energy (eV)</text>
<text x="10.8" y="355.7" font-size="13.5" text-anchor="middle" fill="#000" font-weight="bold" stroke="#000" stroke-width="0.35" transform="rotate(-90 10.8 355.7)" textLength="47.7" lengthAdjust="spacingAndGlyphs">Intensity</text>
<text x="55.8" y="305.7" font-size="13.5" text-anchor="start" fill="#000" font-weight="bold" stroke="#000" stroke-width="0.35" textLength="26" lengthAdjust="spacingAndGlyphs">C 1s</text>
<text x="91" y="346" font-size="13.5" text-anchor="start" fill="#000" font-weight="bold" stroke="#000" stroke-width="0.35" textLength="26" lengthAdjust="spacingAndGlyphs">N 1s</text>
<text x="135.6" y="280.9" font-size="13.5" text-anchor="start" fill="#000" font-weight="bold" stroke="#000" stroke-width="0.35" textLength="26.6" lengthAdjust="spacingAndGlyphs">O 1s</text>
<text x="205.5" y="278" font-size="13.5" text-anchor="start" fill="#000" font-weight="bold" stroke="#000" stroke-width="0.35" textLength="81.1" lengthAdjust="spacingAndGlyphs">Cu-NCs+ClO</text>
<text x="288.6" y="269" font-size="6.5" text-anchor="start" fill="#000" font-weight="bold" stroke="#000" stroke-width="0.2" >-</text>
<text x="255" y="310.8" font-size="13.5" text-anchor="start" fill="#000" font-weight="bold" stroke="#000" stroke-width="0.35" textLength="36.6" lengthAdjust="spacingAndGlyphs">Cu 2p</text>
<text x="55" y="408.4" font-size="13.5" text-anchor="start" fill="#000" font-weight="bold" stroke="#000" stroke-width="0.35" textLength="26" lengthAdjust="spacingAndGlyphs">C 1s</text>
<text x="90.9" y="446.8" font-size="13.5" text-anchor="start" fill="#000" font-weight="bold" stroke="#000" stroke-width="0.35" textLength="25.8" lengthAdjust="spacingAndGlyphs">N 1s</text>
<text x="136.2" y="376.8" font-size="13.5" text-anchor="start" fill="#000" font-weight="bold" stroke="#000" stroke-width="0.35" textLength="26.6" lengthAdjust="spacingAndGlyphs">O 1s</text>
<text x="244" y="392.2" font-size="13.5" text-anchor="start" fill="#000" font-weight="bold" stroke="#000" stroke-width="0.35" textLength="47.6" lengthAdjust="spacingAndGlyphs">Cu NCs</text>
<text x="255.8" y="415" font-size="13.5" text-anchor="start" fill="#000" font-weight="bold" stroke="#000" stroke-width="0.35" textLength="36.4" lengthAdjust="spacingAndGlyphs">Cu 2p</text>
<path d="M274.9,330 L274.9,320 M274.9,433 L274.9,422" stroke="#000" stroke-width="1.4"/>
<path d="M272.6,321.5 L274.9,315.5 L277.2,321.5 Z M272.6,423.5 L274.9,417.3 L277.2,423.5 Z" fill="#000"/>
<polyline points="337.0,360.2 337.6,360.3 338.2,357.1 338.8,355.1 339.4,349.4 340.0,356.1 340.6,356.3 341.2,348.8 341.8,349.1 342.4,372.3 343.0,358.2 343.6,354.4 344.2,356.5 344.8,367.1 345.4,362.6 346.0,361.6 346.6,357.1 347.2,358.3 347.8,360.2 348.4,351.9 349.0,359.8 349.6,357.7 350.2,364.7 350.8,352.5 351.4,360.7 352.0,363.4 352.6,355.8 353.2,363.4 353.8,362.4 354.4,346.2 355.0,358.8 355.6,345.2 356.2,355.8 356.8,354.7 357.4,351.5 358.0,352.5 358.6,356.6 359.2,350.8 359.8,346.5 360.4,350.5 361.0,346.6 361.6,348.3 362.2,340.6 362.8,339.3 363.4,341.5 364.0,336.0 364.6,333.6 365.2,327.7 365.8,313.6 366.4,326.2 367.0,308.0 367.6,314.1 368.2,305.3 368.8,310.4 369.4,297.9 370.0,304.0 370.6,296.2 371.2,292.1 371.8,295.6 372.4,294.7 373.0,295.1 373.6,293.5 374.2,291.3 374.8,295.5 375.4,289.5 376.0,296.6 376.6,296.7 377.2,295.2 377.8,299.9 378.4,294.2 379.0,297.2 379.6,301.7 380.2,298.2 380.8,301.5 381.4,300.9 382.0,307.8 382.6,314.9 383.2,303.4 383.8,305.1 384.4,298.6 385.0,305.6 385.6,308.7 386.2,304.9 386.8,307.0 387.4,307.8 388.0,317.8 388.6,309.2 389.2,311.4 389.8,302.3 390.4,314.6 391.0,318.0 391.6,325.7 392.2,327.0 392.8,321.0 393.4,337.1 394.0,322.7 394.6,331.3 395.2,325.7 395.8,330.7 396.4,326.4 397.0,338.6 397.6,339.4 398.2,332.8 398.8,338.7 399.4,337.6 400.0,340.9 400.6,342.6 401.2,338.1 401.8,349.0 402.4,343.4 403.0,345.6 403.6,339.2 404.2,336.0 404.8,344.6 405.4,347.1 406.0,355.6 406.6,354.4 407.2,349.3 407.8,349.4 408.4,351.3 409.0,354.5 409.6,349.1 410.2,353.7 410.8,350.2 411.4,351.8 412.0,353.3 412.6,351.2 413.2,352.9 413.8,353.0 414.4,340.2 415.0,342.8 415.6,347.4 416.2,348.7 416.8,348.6 417.4,343.8 418.0,348.9 418.6,352.6 419.2,356.9 419.8,350.8 420.4,350.8 421.0,351.0 421.6,352.9 422.2,354.0 422.8,358.1 423.4,349.7 424.0,352.2 424.6,348.9 425.2,353.5 425.8,347.0 426.4,354.0 427.0,349.2 427.6,351.0 428.2,349.0 428.8,346.9 429.4,348.2 430.0,340.2 430.6,339.5 431.2,348.0 431.8,347.5 432.4,351.3 433.0,336.5 433.6,347.7 434.2,347.1 434.8,347.8 435.4,349.0 436.0,347.0 436.6,347.1 437.2,346.5 437.8,347.3 438.4,343.9 439.0,346.6 439.6,347.5 440.2,342.7 440.8,359.3 441.4,348.0 442.0,353.8 442.6,343.7 443.2,345.0 443.8,343.0 444.4,337.1 445.0,333.8 445.6,342.7 446.2,349.5 446.8,341.4 447.4,346.9 448.0,343.0 448.6,338.6 449.2,342.3 449.8,347.1 450.4,345.7 451.0,346.2 451.6,345.5 452.2,343.9 452.8,346.0 453.4,352.5 454.0,343.1 454.6,348.4 455.2,344.0 455.8,343.2 456.4,345.0 457.0,340.9 457.6,353.6 458.2,345.7 458.8,343.3 459.4,335.7 460.0,339.8 460.6,344.4 461.2,346.9 461.8,348.5 462.4,359.1 463.0,353.4 463.6,346.0 464.2,349.5 464.8,355.2 465.4,343.7 466.0,353.6 466.6,348.8 467.2,352.7 467.8,348.6 468.4,351.3 469.0,350.6 469.6,345.5 470.2,353.6 470.8,354.8 471.4,351.3 472.0,350.7 472.6,359.4 473.2,351.0 473.8,357.0 474.4,351.7 475.0,351.5 475.6,351.6 476.2,345.7 476.8,351.0 477.4,350.6 478.0,346.3 478.6,353.9 479.2,353.3 479.8,343.8 480.4,350.1 481.0,360.2 481.6,349.6 482.2,353.2 482.8,362.1 483.4,349.2 484.0,353.6 484.6,357.4 485.2,343.2 485.8,347.6 486.4,361.1 487.0,356.0 487.6,352.3 488.2,354.4 488.8,352.2 489.4,359.9 490.0,362.5 490.6,348.1 491.2,354.9 491.8,351.4 492.4,354.1 493.0,357.1 493.6,356.8 494.2,351.7 494.8,353.6 495.4,354.4 496.0,354.0 496.6,356.3 497.2,357.6 497.8,353.3 498.4,354.1 499.0,347.7 499.6,353.4 500.2,362.0 500.8,354.3 501.4,354.6 502.0,354.9 502.6,354.5 503.2,357.1 503.8,351.3 504.4,351.6 505.0,357.9 505.6,352.5 506.2,360.7 506.8,347.5 507.4,354.3 508.0,351.0 508.6,350.6 509.2,355.3 509.8,345.6 510.4,349.8 511.0,347.0 511.6,347.7 512.2,352.0 512.8,347.4 513.4,350.6 514.0,336.1 514.6,362.2 515.2,354.7 515.8,347.6 516.4,342.2 517.0,345.7 517.6,340.2 518.2,341.5 518.8,332.5 519.4,333.9 520.0,335.7 520.6,335.2 521.2,341.6 521.8,334.6 522.4,339.9 523.0,324.4 523.6,327.5 524.2,327.0 524.8,340.2 525.4,336.1 526.0,320.8 526.6,338.2 527.2,328.1 527.8,328.0 528.4,330.2 529.0,326.0 529.6,338.6 530.2,326.7 530.8,327.7 531.4,327.1 532.0,324.0 532.6,328.2 533.2,340.2 533.8,326.7 534.4,319.9 535.0,329.3 535.6,327.4 536.2,325.9 536.8,327.3 537.4,323.8 538.0,324.3 538.6,326.1 539.2,319.2 539.8,326.7 540.4,322.8 541.0,324.3 541.6,332.4 542.2,327.9 542.8,325.2 543.4,329.7 544.0,343.6 544.6,334.0 545.2,332.1 545.8,327.9 546.4,330.3 547.0,330.6 547.6,324.8 548.2,333.1 548.8,332.3 549.4,333.0 550.0,335.8 550.6,328.0 551.2,332.1 551.8,348.4 552.4,335.2 553.0,336.0 553.6,333.0 554.2,339.4 554.8,342.7 555.4,335.0 556.0,343.1 556.6,343.8 557.2,343.1 557.8,351.1 558.4,358.0 559.0,356.3 559.6,350.9 560.2,345.1 560.8,350.5 561.4,351.6 562.0,350.3 562.6,353.1 563.2,353.0 563.8,355.8 564.4,350.0 565.0,347.5 565.6,355.8 566.2,354.9 566.8,345.2 567.4,346.9 568.0,351.1 568.6,353.2 569.2,358.3 569.8,338.9 570.4,346.3 571.0,349.0 571.6,349.9 572.2,352.3 572.8,349.9 573.4,349.6 574.0,346.9 574.6,350.6 575.2,349.9 575.8,356.8 576.4,345.9 577.0,344.5 577.6,348.0 578.2,347.7 578.8,348.7 579.4,345.4 580.0,350.8 580.6,352.4 581.2,337.5 581.8,354.5 582.4,342.7 583.0,346.7 583.6,348.2 584.2,347.6 584.8,345.2 585.4,350.0 586.0,351.7 586.6,345.0 587.2,343.8 587.8,347.6 588.4,343.2 589.0,354.4 589.6,351.2 590.2,350.7 590.8,346.2 591.4,349.6 592.0,345.8 592.6,346.2 593.2,341.1 593.8,337.4 594.4,347.5 595.0,342.8 595.6,354.1 596.2,346.1 596.8,346.1 597.4,350.6 598.0,343.4 598.6,333.8 599.2,342.0 599.8,344.3 600.4,340.4 601.0,342.3 601.6,346.3 602.2,343.0" fill="none" stroke="#868686" stroke-width="1.5" stroke-linejoin="round"/>
<polyline points="337.0,431.3 337.6,429.5 338.2,429.8 338.8,429.8 339.4,445.7 340.0,432.2 340.6,432.7 341.2,429.3 341.8,432.8 342.4,425.4 343.0,421.9 343.6,435.8 344.2,417.8 344.8,443.6 345.4,435.2 346.0,434.4 346.6,421.6 347.2,427.5 347.8,435.8 348.4,430.4 349.0,432.2 349.6,425.4 350.2,427.1 350.8,431.0 351.4,433.9 352.0,431.3 352.6,424.8 353.2,436.3 353.8,425.9 354.4,430.5 355.0,431.8 355.6,429.2 356.2,430.3 356.8,436.9 357.4,430.6 358.0,431.3 358.6,442.3 359.2,428.6 359.8,437.2 360.4,429.0 361.0,427.4 361.6,434.0 362.2,419.0 362.8,431.4 363.4,429.3 364.0,430.2 364.6,413.7 365.2,417.4 365.8,421.8 366.4,416.3 367.0,401.8 367.6,415.1 368.2,415.0 368.8,421.0 369.4,402.3 370.0,402.3 370.6,407.5 371.2,394.0 371.8,396.3 372.4,396.8 373.0,395.3 373.6,395.2 374.2,398.9 374.8,393.6 375.4,392.7 376.0,390.8 376.6,387.4 377.2,391.4 377.8,407.5 378.4,400.4 379.0,397.6 379.6,395.7 380.2,401.9 380.8,399.2 381.4,398.6 382.0,401.2 382.6,398.8 383.2,404.6 383.8,403.6 384.4,410.5 385.0,413.3 385.6,428.4 386.2,417.0 386.8,405.9 387.4,418.6 388.0,421.8 388.6,425.0 389.2,420.9 389.8,422.3 390.4,424.3 391.0,420.8 391.6,436.8 392.2,442.7 392.8,425.7 393.4,438.4 394.0,425.2 394.6,421.9 395.2,431.7 395.8,433.4 396.4,426.0 397.0,439.4 397.6,429.2 398.2,426.4 398.8,428.5 399.4,424.8 400.0,434.1 400.6,428.8 401.2,433.0 401.8,430.7 402.4,425.5 403.0,431.8 403.6,441.9 404.2,427.0 404.8,441.4 405.4,425.2 406.0,431.7 406.6,426.8 407.2,449.0 407.8,431.4 408.4,436.4 409.0,433.1 409.6,430.6 410.2,428.4 410.8,436.5 411.4,436.9 412.0,434.4 412.6,434.8 413.2,421.1 413.8,427.7 414.4,431.5 415.0,423.6 415.6,431.8 416.2,440.0 416.8,429.6 417.4,432.9 418.0,427.4 418.6,434.6 419.2,437.3 419.8,435.0 420.4,430.5 421.0,429.6 421.6,423.9 422.2,435.8 422.8,437.6 423.4,431.5 424.0,434.0 424.6,427.9 425.2,433.9 425.8,428.2 426.4,433.5 427.0,417.8 427.6,430.0 428.2,428.0 428.8,420.9 429.4,428.4 430.0,438.3 430.6,429.0 431.2,425.2 431.8,432.6 432.4,434.1 433.0,429.5 433.6,438.5 434.2,433.0 434.8,431.3 435.4,437.3 436.0,434.8 436.6,431.9 437.2,428.2 437.8,431.2 438.4,432.1 439.0,437.3 439.6,439.4 440.2,422.6 440.8,431.2 441.4,439.3 442.0,430.4 442.6,433.8 443.2,427.9 443.8,436.4 444.4,426.8 445.0,428.4 445.6,428.2 446.2,426.0 446.8,432.7 447.4,435.6 448.0,426.4 448.6,427.3 449.2,430.1 449.8,429.0 450.4,432.3 451.0,425.2 451.6,431.7 452.2,431.0 452.8,425.2 453.4,430.6 454.0,429.8 454.6,423.0 455.2,429.3 455.8,432.3 456.4,436.6 457.0,440.4 457.6,433.6 458.2,430.2 458.8,426.2 459.4,432.8 460.0,431.6 460.6,436.1 461.2,428.3 461.8,432.5 462.4,424.3 463.0,429.1 463.6,430.4 464.2,434.8 464.8,429.5 465.4,432.1 466.0,445.3 466.6,439.9 467.2,430.8 467.8,427.5 468.4,432.1 469.0,434.5 469.6,431.8 470.2,433.7 470.8,427.6 471.4,428.8 472.0,426.4 472.6,422.4 473.2,430.8 473.8,434.3 474.4,430.0 475.0,440.6 475.6,429.7 476.2,430.1 476.8,436.1 477.4,432.8 478.0,431.5 478.6,428.2 479.2,424.3 479.8,426.8 480.4,426.9 481.0,430.6 481.6,429.7 482.2,431.7 482.8,428.7 483.4,433.2 484.0,440.3 484.6,435.5 485.2,432.1 485.8,428.8 486.4,435.0 487.0,435.9 487.6,424.8 488.2,436.2 488.8,438.9 489.4,427.9 490.0,427.6 490.6,434.0 491.2,431.4 491.8,424.0 492.4,432.7 493.0,436.0 493.6,434.1 494.2,422.6 494.8,421.9 495.4,431.9 496.0,433.3 496.6,439.1 497.2,434.0 497.8,433.6 498.4,437.4 499.0,431.0 499.6,427.6 500.2,426.0 500.8,430.5 501.4,437.1 502.0,432.3 502.6,422.2 503.2,438.7 503.8,436.1 504.4,423.2 505.0,435.4 505.6,427.9 506.2,422.7 506.8,430.9 507.4,434.0 508.0,429.3 508.6,431.2 509.2,436.3 509.8,426.0 510.4,433.0 511.0,429.8 511.6,423.2 512.2,434.5 512.8,433.2 513.4,431.1 514.0,431.1 514.6,430.3 515.2,433.1 515.8,418.1 516.4,425.1 517.0,424.1 517.6,425.0 518.2,431.6 518.8,430.4 519.4,432.5 520.0,431.2 520.6,433.9 521.2,432.3 521.8,419.2 522.4,422.4 523.0,430.6 523.6,433.5 524.2,432.4 524.8,421.0 525.4,428.3 526.0,422.2 526.6,424.1 527.2,430.2 527.8,425.6 528.4,428.1 529.0,423.7 529.6,428.5 530.2,418.7 530.8,420.1 531.4,427.6 532.0,421.5 532.6,408.4 533.2,413.2 533.8,414.6 534.4,416.2 535.0,411.8 535.6,418.5 536.2,417.8 536.8,413.3 537.4,411.3 538.0,411.0 538.6,410.8 539.2,414.3 539.8,415.6 540.4,422.3 541.0,417.0 541.6,418.4 542.2,415.7 542.8,433.0 543.4,420.4 544.0,416.8 544.6,420.4 545.2,426.0 545.8,422.0 546.4,442.4 547.0,426.9 547.6,430.9 548.2,429.0 548.8,430.3 549.4,427.9 550.0,433.0 550.6,433.3 551.2,433.6 551.8,431.4 552.4,434.1 553.0,434.5 553.6,428.1 554.2,422.1 554.8,439.3 555.4,431.0 556.0,424.5 556.6,437.4 557.2,436.6 557.8,433.0 558.4,425.7 559.0,437.4 559.6,431.9 560.2,425.1 560.8,427.8 561.4,426.9 562.0,437.3 562.6,438.0 563.2,439.9 563.8,430.3 564.4,432.7 565.0,433.1 565.6,430.7 566.2,418.8 566.8,423.6 567.4,424.7 568.0,431.6 568.6,431.2 569.2,420.4 569.8,423.6 570.4,430.9 571.0,433.4 571.6,432.0 572.2,434.8 572.8,432.5 573.4,425.1 574.0,425.8 574.6,430.7 575.2,432.9 575.8,437.3 576.4,437.7 577.0,442.1 577.6,437.1 578.2,431.1 578.8,432.5 579.4,423.6 580.0,440.5 580.6,432.8 581.2,422.2 581.8,437.9 582.4,434.3 583.0,446.1 583.6,425.5 584.2,431.3 584.8,425.8 585.4,440.5 586.0,427.2 586.6,434.3 587.2,433.7 587.8,432.9 588.4,431.8 589.0,431.4 589.6,435.6 590.2,432.9 590.8,430.5 591.4,434.5 592.0,433.7 592.6,431.5 593.2,434.1 593.8,427.6 594.4,431.4 595.0,435.3 595.6,435.4 596.2,434.8 596.8,450.0 597.4,431.0 598.0,439.0 598.6,435.2 599.2,435.0 599.8,430.2 600.4,425.2 601.0,435.1 601.6,423.7 602.2,433.5" fill="none" stroke="#868686" stroke-width="1.5" stroke-linejoin="round"/>
<polyline points="338.0,369.0 338.5,368.9 339.0,368.9 339.5,368.8 340.0,368.8 340.5,368.7 341.0,368.6 341.5,368.5 342.0,368.4 342.5,368.3 343.0,368.2 343.5,368.0 344.0,367.9 344.5,367.7 345.0,367.5 345.5,367.3 346.0,367.1 346.5,366.9 347.0,366.6 347.5,366.3 348.0,366.0 348.5,365.7 349.0,365.3 349.5,364.9 350.0,364.5 350.5,364.0 351.0,363.5 351.5,362.9 352.0,362.4 352.5,361.7 353.0,361.0 353.5,360.3 354.0,359.5 354.5,358.7 355.0,357.8 355.5,356.9 356.0,355.9 356.5,354.9 357.0,353.8 357.5,352.6 358.0,351.4 358.5,350.2 359.0,348.8 359.5,347.5 360.0,346.0 360.5,344.6 361.0,343.0 361.5,341.5 362.0,339.8 362.5,338.2 363.0,336.5 363.5,334.7 364.0,333.0 364.5,331.2 365.0,329.4 365.5,327.6 366.0,325.8 366.5,323.9 367.0,322.1 367.5,320.3 368.0,318.5 368.5,316.8 369.0,315.1 369.5,313.4 370.0,311.8 370.5,310.2 371.0,308.7 371.5,307.2 372.0,305.9 372.5,304.6 373.0,303.4 373.5,302.3 374.0,301.3 374.5,300.5 375.0,299.7 375.5,299.0 376.0,298.5 376.5,298.1 377.0,297.8 377.5,297.6 378.0,297.6 378.5,297.7 379.0,297.9 379.5,298.2 380.0,298.7 380.5,299.3 381.0,300.0 381.5,300.8 382.0,301.7 382.5,302.7 383.0,303.8 383.5,305.1 384.0,306.4 384.5,307.7 385.0,309.2 385.5,310.7 386.0,312.3 386.5,313.9 387.0,315.6 387.5,317.3 388.0,319.0 388.5,320.8 389.0,322.6 389.5,324.4 390.0,326.2 390.5,327.9 391.0,329.7 391.5,331.5 392.0,333.2 392.5,334.9 393.0,336.6 393.5,338.2 394.0,339.8 394.5,341.4 395.0,342.9 395.5,344.3 396.0,345.7 396.5,347.1 397.0,348.4 397.5,349.7 398.0,350.8 398.5,352.0 399.0,353.1 399.5,354.1 400.0,355.0 400.5,356.0 401.0,356.8 401.5,357.6 402.0,358.4 402.5,359.1 403.0,359.7 403.5,360.4 404.0,360.9 404.5,361.5 405.0,361.9 405.5,362.4 406.0,362.8 406.5,363.2 407.0,363.5 407.5,363.8 408.0,364.1 408.5,364.4 409.0,364.6 409.5,364.8 410.0,365.0 410.5,365.2 411.0,365.3 411.5,365.5 412.0,365.6 412.5,365.7 413.0,365.8 413.5,365.9" fill="none" stroke="#ff0000" stroke-width="2.2"/>
<polyline points="337.2,369.2 337.7,369.2 338.2,369.2 338.7,369.2 339.2,369.2 339.7,369.2 340.2,369.1 340.7,369.1 341.2,369.1 341.7,369.1 342.2,369.1 342.7,369.1 343.2,369.0 343.7,369.0 344.2,369.0 344.7,369.0 345.2,369.0 345.7,369.0 346.2,369.0 346.7,368.9 347.2,368.9 347.7,368.9 348.2,368.9 348.7,368.9 349.2,368.9 349.7,368.8 350.2,368.8 350.7,368.8 351.2,368.8 351.7,368.8 352.2,368.8 352.7,368.8 353.2,368.7 353.7,368.7 354.2,368.7 354.7,368.7 355.2,368.7 355.7,368.7 356.2,368.6 356.7,368.6 357.2,368.6 357.7,368.6 358.2,368.6 358.7,368.6 359.2,368.6 359.7,368.5 360.2,368.5 360.7,368.5 361.2,368.5 361.7,368.5 362.2,368.5 362.7,368.4 363.2,368.4 363.7,368.4 364.2,368.4 364.7,368.4 365.2,368.4 365.7,368.4 366.2,368.3 366.7,368.3 367.2,368.3 367.7,368.3 368.2,368.3 368.7,368.3 369.2,368.2 369.7,368.2 370.2,368.2 370.7,368.2 371.2,368.2 371.7,368.2 372.2,368.2 372.7,368.1 373.2,368.1 373.7,368.1 374.2,368.1 374.7,368.1 375.2,368.1 375.7,368.0 376.2,368.0 376.7,368.0 377.2,368.0 377.7,368.0 378.2,368.0 378.7,368.0 379.2,367.9 379.7,367.9 380.2,367.9 380.7,367.9 381.2,367.9 381.7,367.9 382.2,367.8 382.7,367.8 383.2,367.8 383.7,367.8 384.2,367.8 384.7,367.8 385.2,367.8 385.7,367.7 386.2,367.7 386.7,367.7 387.2,367.7 387.7,367.7 388.2,367.7 388.7,367.6 389.2,367.6 389.7,367.6 390.2,367.6 390.7,367.6 391.2,367.6 391.7,367.6 392.2,367.5 392.7,367.5 393.2,367.5 393.7,367.5 394.2,367.5 394.7,367.5 395.2,367.4 395.7,367.4 396.2,367.4 396.7,367.4 397.2,367.4 397.7,367.4 398.2,367.4 398.7,367.3 399.2,367.3 399.7,367.3 400.2,367.3 400.7,367.3 401.2,367.3 401.7,367.2 402.2,367.2 402.7,367.2 403.2,367.2 403.7,367.2 404.2,367.2 404.7,367.2 405.2,367.1 405.7,367.1 406.2,367.1 406.7,367.1 407.2,367.1 407.7,367.1 408.2,367.0 408.7,367.0 409.2,367.0 409.7,367.0 410.2,367.0 410.7,367.0 411.2,367.0 411.7,366.9 412.2,366.9 412.7,366.9 413.2,366.9 413.7,366.9 414.2,366.9 414.7,366.8 415.2,366.8 415.7,366.8 416.2,366.8 416.7,366.8 417.2,366.8 417.7,366.8 418.2,366.7 418.7,366.7 419.2,366.7 419.7,366.7 420.2,366.7 420.7,366.7 421.2,366.6 421.7,366.6 422.2,366.6 422.7,366.6 423.2,366.6 423.7,366.6 424.2,366.6 424.7,366.5 425.2,366.5 425.7,366.5 426.2,366.5 426.7,366.5 427.2,366.5 427.7,366.4 428.2,366.4 428.7,366.4 429.2,366.4 429.7,366.4 430.2,366.4 430.7,366.4 431.2,366.3 431.7,366.3 432.2,366.3 432.7,366.3 433.2,366.3 433.7,366.3 434.2,366.3 434.7,366.2 435.2,366.2 435.7,366.2 436.2,366.2 436.7,366.2 437.2,366.2 437.7,366.1 438.2,366.1 438.7,366.1 439.2,366.1 439.7,366.1 440.2,366.1 440.7,366.1 441.2,366.0 441.7,366.0 442.2,366.0 442.7,366.0 443.2,366.0 443.7,366.0 444.2,365.9 444.7,365.9 445.2,365.9 445.7,365.9 446.2,365.9 446.7,365.9 447.2,365.9 447.7,365.8 448.2,365.8 448.7,365.8 449.2,365.8 449.7,365.8 450.2,365.8 450.7,365.7 451.2,365.7 451.7,365.7 452.2,365.7 452.7,365.7 453.2,365.7 453.7,365.7 454.2,365.6 454.7,365.6 455.2,365.6 455.7,365.6 456.2,365.6 456.7,365.6 457.2,365.5 457.7,365.5 458.2,365.5 458.7,365.5 459.2,365.5 459.7,365.5 460.2,365.5 460.7,365.4 461.2,365.4 461.7,365.4 462.2,365.4 462.7,365.4 463.2,365.4 463.7,365.3 464.2,365.3 464.7,365.3 465.2,365.3 465.7,365.3 466.2,365.3 466.7,365.3 467.2,365.2 467.7,365.2 468.2,365.2 468.7,365.2 469.2,365.2 469.7,365.2 470.2,365.1 470.7,365.1 471.2,365.1 471.7,365.1 472.2,365.1 472.7,365.1 473.2,365.1 473.7,365.0 474.2,365.0 474.7,365.0 475.2,365.0 475.7,365.0 476.2,365.0 476.7,364.9 477.2,364.9 477.7,364.9 478.2,364.9 478.7,364.9 479.2,364.9 479.7,364.9 480.2,364.8 480.7,364.8 481.2,364.8 481.7,364.8 482.2,364.8 482.7,364.8 483.2,364.7 483.7,364.7 484.2,364.7 484.7,364.7 485.2,364.7 485.7,364.7 486.2,364.6 486.7,364.6 487.2,364.6 487.7,364.6 488.2,364.6 488.7,364.6 489.2,364.5 489.7,364.5 490.2,364.5 490.7,364.5 491.2,364.4 491.7,364.4 492.2,364.4 492.7,364.4 493.2,364.3 493.7,364.3 494.2,364.3 494.7,364.3 495.2,364.2 495.7,364.2 496.2,364.2 496.7,364.1 497.2,364.1 497.7,364.0 498.2,364.0 498.7,363.9 499.2,363.9 499.7,363.8 500.2,363.8 500.7,363.7 501.2,363.6 501.7,363.5 502.2,363.4 502.7,363.3 503.2,363.2 503.7,363.1 504.2,363.0 504.7,362.9 505.2,362.8 505.7,362.6 506.2,362.5 506.7,362.3 507.2,362.1 507.7,361.9 508.2,361.7 508.7,361.5 509.2,361.3 509.7,361.0 510.2,360.8 510.7,360.5 511.2,360.2 511.7,359.9 512.2,359.6 512.7,359.2 513.2,358.8 513.7,358.5 514.2,358.0 514.7,357.6 515.2,357.2 515.7,356.7 516.2,356.2 516.7,355.7 517.2,355.2 517.7,354.6 518.2,354.0 518.7,353.4 519.2,352.8 519.7,352.2 520.2,351.5 520.7,350.9 521.2,350.2 521.7,349.5 522.2,348.8 522.7,348.0 523.2,347.3 523.7,346.5 524.2,345.7 524.7,345.0 525.2,344.2 525.7,343.4 526.2,342.6 526.7,341.8 527.2,341.0 527.7,340.3 528.2,339.5 528.7,338.7 529.2,338.0 529.7,337.2 530.2,336.5 530.7,335.8 531.2,335.1 531.7,334.4 532.2,333.8 532.7,333.2 533.2,332.6 533.7,332.1 534.2,331.5 534.7,331.1 535.2,330.6 535.7,330.2 536.2,329.9 536.7,329.6 537.2,329.3 537.7,329.1 538.2,328.9 538.7,328.7 539.2,328.6 539.7,328.6 540.2,328.6 540.7,328.7 541.2,328.8 541.7,328.9 542.2,329.1 542.7,329.3 543.2,329.6 543.7,329.9 544.2,330.3 544.7,330.7 545.2,331.1 545.7,331.6 546.2,332.1 546.7,332.7 547.2,333.2 547.7,333.9 548.2,334.5 548.7,335.1 549.2,335.8 549.7,336.5 550.2,337.2 550.7,337.9 551.2,338.7 551.7,339.4 552.2,340.2 552.7,340.9 553.2,341.7 553.7,342.4 554.2,343.2 554.7,343.9 555.2,344.7 555.7,345.4 556.2,346.1 556.7,346.9 557.2,347.6 557.7,348.3 558.2,348.9 558.7,349.6 559.2,350.2 559.7,350.9 560.2,351.5 560.7,352.1 561.2,352.6 561.7,353.2 562.2,353.7 562.7,354.2 563.2,354.7 563.7,355.2 564.2,355.6 564.7,356.0 565.2,356.4 565.7,356.8 566.2,357.2 566.7,357.5 567.2,357.8 567.7,358.1 568.2,358.4 568.7,358.7 569.2,358.9 569.7,359.2 570.2,359.4 570.7,359.6 571.2,359.8 571.7,359.9 572.2,360.1 572.7,360.3 573.2,360.4 573.7,360.5 574.2,360.6 574.7,360.7 575.2,360.8 575.7,360.9 576.2,361.0 576.7,361.1 577.2,361.1 577.7,361.2 578.2,361.2 578.7,361.3 579.2,361.3 579.7,361.4 580.2,361.4 580.7,361.4 581.2,361.4 581.7,361.4 582.2,361.5 582.7,361.5 583.2,361.5 583.7,361.5 584.2,361.5 584.7,361.5 585.2,361.5 585.7,361.5 586.2,361.5 586.7,361.5 587.2,361.5 587.7,361.5 588.2,361.5 588.7,361.5 589.2,361.5 589.7,361.4 590.2,361.4 590.7,361.4 591.2,361.4 591.7,361.4 592.2,361.4 592.7,361.4 593.2,361.4 593.7,361.3 594.2,361.3 594.7,361.3 595.2,361.3 595.7,361.3 596.2,361.3 596.7,361.3 597.2,361.2 597.7,361.2 598.2,361.2 598.7,361.2 599.2,361.2 599.7,361.2 600.2,361.2 600.7,361.1 601.2,361.1 601.7,361.1" fill="none" stroke="#0000ff" stroke-width="2.2"/>
<polyline points="337.2,369.3 337.7,369.2 338.2,369.2 338.7,369.2 339.2,369.2 339.7,369.2 340.2,369.2 340.7,369.1 341.2,369.1 341.7,369.1 342.2,369.1 342.7,369.1 343.2,369.1 343.7,369.0 344.2,369.0 344.7,369.0 345.2,369.0 345.7,369.0 346.2,369.0 346.7,368.9 347.2,368.9 347.7,368.9 348.2,368.9 348.7,368.9 349.2,368.8 349.7,368.8 350.2,368.8 350.7,368.8 351.2,368.8 351.7,368.8 352.2,368.7 352.7,368.7 353.2,368.7 353.7,368.7 354.2,368.7 354.7,368.7 355.2,368.6 355.7,368.6 356.2,368.6 356.7,368.6 357.2,368.6 357.7,368.6 358.2,368.5 358.7,368.5 359.2,368.5 359.7,368.5 360.2,368.5 360.7,368.4 361.2,368.4 361.7,368.4 362.2,368.4 362.7,368.4 363.2,368.4 363.7,368.3 364.2,368.3 364.7,368.3 365.2,368.3 365.7,368.3 366.2,368.3 366.7,368.2 367.2,368.2 367.7,368.2 368.2,368.2 368.7,368.2 369.2,368.1 369.7,368.1 370.2,368.1 370.7,368.1 371.2,368.1 371.7,368.1 372.2,368.0 372.7,368.0 373.2,368.0 373.7,368.0 374.2,368.0 374.7,368.0 375.2,367.9 375.7,367.9 376.2,367.9 376.7,367.9 377.2,367.9 377.7,367.9 378.2,367.8 378.7,367.8 379.2,367.8 379.7,367.8 380.2,367.8 380.7,367.7 381.2,367.7 381.7,367.7 382.2,367.7 382.7,367.7 383.2,367.7 383.7,367.6 384.2,367.6 384.7,367.6 385.2,367.6 385.7,367.6 386.2,367.5 386.7,367.5 387.2,367.5 387.7,367.5 388.2,367.5 388.7,367.4 389.2,367.4 389.7,367.4 390.2,367.4 390.7,367.4 391.2,367.3 391.7,367.3 392.2,367.3 392.7,367.3 393.2,367.3 393.7,367.2 394.2,367.2 394.7,367.2 395.2,367.2 395.7,367.1 396.2,367.1 396.7,367.1 397.2,367.0 397.7,367.0 398.2,367.0 398.7,367.0 399.2,366.9 399.7,366.9 400.2,366.9 400.7,366.8 401.2,366.8 401.7,366.7 402.2,366.7 402.7,366.7 403.2,366.6 403.7,366.6 404.2,366.5 404.7,366.5 405.2,366.4 405.7,366.3 406.2,366.3 406.7,366.2 407.2,366.2 407.7,366.1 408.2,366.0 408.7,365.9 409.2,365.9 409.7,365.8 410.2,365.7 410.7,365.6 411.2,365.5 411.7,365.4 412.2,365.3 412.7,365.2 413.2,365.1 413.7,364.9 414.2,364.8 414.7,364.7 415.2,364.5 415.7,364.4 416.2,364.3 416.7,364.1 417.2,363.9 417.7,363.8 418.2,363.6 418.7,363.4 419.2,363.2 419.7,363.0 420.2,362.8 420.7,362.6 421.2,362.4 421.7,362.2 422.2,362.0 422.7,361.7 423.2,361.5 423.7,361.2 424.2,361.0 424.7,360.7 425.2,360.5 425.7,360.2 426.2,359.9 426.7,359.6 427.2,359.3 427.7,359.0 428.2,358.7 428.7,358.4 429.2,358.1 429.7,357.8 430.2,357.5 430.7,357.2 431.2,356.9 431.7,356.5 432.2,356.2 432.7,355.9 433.2,355.6 433.7,355.2 434.2,354.9 434.7,354.6 435.2,354.2 435.7,353.9 436.2,353.6 436.7,353.3 437.2,353.0 437.7,352.6 438.2,352.3 438.7,352.0 439.2,351.7 439.7,351.4 440.2,351.2 440.7,350.9 441.2,350.6 441.7,350.4 442.2,350.1 442.7,349.9 443.2,349.7 443.7,349.4 444.2,349.2 444.7,349.0 445.2,348.9 445.7,348.7 446.2,348.5 446.7,348.4 447.2,348.3 447.7,348.2 448.2,348.1 448.7,348.0 449.2,347.9 449.7,347.9 450.2,347.8 450.7,347.8 451.2,347.8 451.7,347.8 452.2,347.8 452.7,347.9 453.2,347.9 453.7,348.0 454.2,348.1 454.7,348.2 455.2,348.3 455.7,348.4 456.2,348.5 456.7,348.7 457.2,348.9 457.7,349.0 458.2,349.2 458.7,349.4 459.2,349.6 459.7,349.8 460.2,350.1 460.7,350.3 461.2,350.5 461.7,350.8 462.2,351.0 462.7,351.3 463.2,351.6 463.7,351.8 464.2,352.1 464.7,352.4 465.2,352.7 465.7,353.0 466.2,353.3 466.7,353.6 467.2,353.9 467.7,354.2 468.2,354.5 468.7,354.8 469.2,355.0 469.7,355.3 470.2,355.6 470.7,355.9 471.2,356.2 471.7,356.5 472.2,356.8 472.7,357.0 473.2,357.3 473.7,357.6 474.2,357.8 474.7,358.1 475.2,358.3 475.7,358.6 476.2,358.8 476.7,359.0 477.2,359.2 477.7,359.5 478.2,359.7 478.7,359.9 479.2,360.1 479.7,360.3 480.2,360.4 480.7,360.6 481.2,360.8 481.7,360.9 482.2,361.1 482.7,361.2 483.2,361.4 483.7,361.5 484.2,361.7 484.7,361.8 485.2,361.9 485.7,362.0 486.2,362.1 486.7,362.2 487.2,362.3 487.7,362.4 488.2,362.5 488.7,362.6 489.2,362.6 489.7,362.7 490.2,362.8 490.7,362.8 491.2,362.9 491.7,362.9 492.2,363.0 492.7,363.0 493.2,363.1 493.7,363.1 494.2,363.1 494.7,363.2 495.2,363.2 495.7,363.2 496.2,363.2 496.7,363.3 497.2,363.3 497.7,363.3 498.2,363.3 498.7,363.3 499.2,363.3 499.7,363.3 500.2,363.3 500.7,363.3 501.2,363.3 501.7,363.3 502.2,363.3 502.7,363.3 503.2,363.3 503.7,363.3 504.2,363.3 504.7,363.3 505.2,363.3 505.7,363.3 506.2,363.3 506.7,363.3 507.2,363.3 507.7,363.3 508.2,363.2 508.7,363.2 509.2,363.2 509.7,363.2 510.2,363.2 510.7,363.2 511.2,363.2 511.7,363.2 512.2,363.1 512.7,363.1 513.2,363.1 513.7,363.1 514.2,363.1 514.7,363.1 515.2,363.0 515.7,363.0 516.2,363.0 516.7,363.0 517.2,363.0 517.7,363.0 518.2,362.9 518.7,362.9 519.2,362.9 519.7,362.9 520.2,362.9 520.7,362.9 521.2,362.8 521.7,362.8 522.2,362.8 522.7,362.8 523.2,362.8 523.7,362.8 524.2,362.7 524.7,362.7 525.2,362.7 525.7,362.7 526.2,362.7 526.7,362.7 527.2,362.6 527.7,362.6 528.2,362.6 528.7,362.6 529.2,362.6 529.7,362.6 530.2,362.5 530.7,362.5 531.2,362.5 531.7,362.5 532.2,362.5 532.7,362.4 533.2,362.4 533.7,362.4 534.2,362.4 534.7,362.4 535.2,362.4 535.7,362.3 536.2,362.3 536.7,362.3 537.2,362.3 537.7,362.3 538.2,362.3 538.7,362.2 539.2,362.2 539.7,362.2 540.2,362.2 540.7,362.2 541.2,362.2 541.7,362.1 542.2,362.1 542.7,362.1 543.2,362.1 543.7,362.1 544.2,362.0 544.7,362.0 545.2,362.0 545.7,362.0 546.2,362.0 546.7,362.0 547.2,361.9 547.7,361.9 548.2,361.9 548.7,361.9 549.2,361.9 549.7,361.9 550.2,361.8 550.7,361.8 551.2,361.8 551.7,361.8 552.2,361.8 552.7,361.8 553.2,361.7 553.7,361.7 554.2,361.7 554.7,361.7 555.2,361.7 555.7,361.6 556.2,361.6 556.7,361.6 557.2,361.6 557.7,361.6 558.2,361.6 558.7,361.5 559.2,361.5 559.7,361.5 560.2,361.5 560.7,361.5 561.2,361.5 561.7,361.4 562.2,361.4 562.7,361.4 563.2,361.4 563.7,361.4 564.2,361.3 564.7,361.3 565.2,361.3 565.7,361.3 566.2,361.3 566.7,361.3 567.2,361.2 567.7,361.2 568.2,361.2 568.7,361.2 569.2,361.2 569.7,361.2 570.2,361.1 570.7,361.1 571.2,361.1 571.7,361.1 572.2,361.1 572.7,361.1 573.2,361.0 573.7,361.0 574.2,361.0 574.7,361.0 575.2,361.0 575.7,360.9 576.2,360.9 576.7,360.9 577.2,360.9 577.7,360.9 578.2,360.9 578.7,360.8 579.2,360.8 579.7,360.8 580.2,360.8 580.7,360.8 581.2,360.8 581.7,360.7 582.2,360.7 582.7,360.7 583.2,360.7 583.7,360.7 584.2,360.7 584.7,360.6 585.2,360.6 585.7,360.6 586.2,360.6 586.7,360.6 587.2,360.5 587.7,360.5 588.2,360.5 588.7,360.5 589.2,360.5 589.7,360.5 590.2,360.4 590.7,360.4 591.2,360.4 591.7,360.4 592.2,360.4 592.7,360.4 593.2,360.3 593.7,360.3 594.2,360.3 594.7,360.3 595.2,360.3 595.7,360.3 596.2,360.2 596.7,360.2 597.2,360.2 597.7,360.2 598.2,360.2 598.7,360.1 599.2,360.1 599.7,360.1 600.2,360.1 600.7,360.1 601.2,360.1 601.7,360.0" fill="none" stroke="#00ffff" stroke-width="2.2"/>
<polyline points="517.0,436.6 517.5,436.6 518.0,436.6 518.5,436.6 519.0,436.6 519.5,436.6 520.0,436.6 520.5,436.6 521.0,436.6 521.5,436.6 522.0,436.6 522.5,436.6 523.0,436.6 523.5,436.6 524.0,436.6 524.5,436.6 525.0,436.6 525.5,436.6 526.0,436.5 526.5,436.5 527.0,436.5 527.5,436.5 528.0,436.5 528.5,436.5 529.0,436.5 529.5,436.5 530.0,436.5 530.5,436.5 531.0,436.5 531.5,436.5 532.0,436.5 532.5,436.5 533.0,436.5 533.5,436.5 534.0,436.5 534.5,436.5 535.0,436.5 535.5,436.5 536.0,436.5 536.5,436.5 537.0,436.5 537.5,436.5 538.0,436.5 538.5,436.5 539.0,436.5 539.5,436.5 540.0,436.4 540.5,436.4 541.0,436.4 541.5,436.4 542.0,436.4 542.5,436.4 543.0,436.4 543.5,436.4 544.0,436.4 544.5,436.4 545.0,436.4 545.5,436.4 546.0,436.4 546.5,436.4 547.0,436.4 547.5,436.4 548.0,436.4 548.5,436.4 549.0,436.4 549.5,436.4 550.0,436.4 550.5,436.4 551.0,436.4 551.5,436.4 552.0,436.4 552.5,436.4 553.0,436.4 553.5,436.4 554.0,436.3 554.5,436.3 555.0,436.3 555.5,436.3 556.0,436.3 556.5,436.3 557.0,436.3 557.5,436.3 558.0,436.3 558.5,436.3 559.0,436.3 559.5,436.3 560.0,436.3 560.5,436.3 561.0,436.3 561.5,436.3 562.0,436.3 562.5,436.3 563.0,436.3 563.5,436.3 564.0,436.3 564.5,436.3 565.0,436.3 565.5,436.3 566.0,436.3 566.5,436.3 567.0,436.3 567.5,436.3 568.0,436.2 568.5,436.2" fill="none" stroke="#ff0000" stroke-width="2.2"/>
<polyline points="337.2,437.9 337.7,437.9 338.2,437.9 338.7,437.9 339.2,437.9 339.7,437.9 340.2,437.9 340.7,437.9 341.2,437.9 341.7,437.9 342.2,437.9 342.7,437.9 343.2,437.9 343.7,437.8 344.2,437.8 344.7,437.8 345.2,437.8 345.7,437.8 346.2,437.8 346.7,437.8 347.2,437.8 347.7,437.8 348.2,437.8 348.7,437.8 349.2,437.8 349.7,437.8 350.2,437.8 350.7,437.8 351.2,437.8 351.7,437.8 352.2,437.8 352.7,437.8 353.2,437.8 353.7,437.8 354.2,437.8 354.7,437.8 355.2,437.8 355.7,437.8 356.2,437.8 356.7,437.8 357.2,437.8 357.7,437.7 358.2,437.7 358.7,437.7 359.2,437.7 359.7,437.7 360.2,437.7 360.7,437.7 361.2,437.7 361.7,437.7 362.2,437.7 362.7,437.7 363.2,437.7 363.7,437.7 364.2,437.7 364.7,437.7 365.2,437.7 365.7,437.7 366.2,437.7 366.7,437.7 367.2,437.7 367.7,437.7 368.2,437.7 368.7,437.7 369.2,437.7 369.7,437.7 370.2,437.7 370.7,437.7 371.2,437.7 371.7,437.6 372.2,437.6 372.7,437.6 373.2,437.6 373.7,437.6 374.2,437.6 374.7,437.6 375.2,437.6 375.7,437.6 376.2,437.6 376.7,437.6 377.2,437.6 377.7,437.6 378.2,437.6 378.7,437.6 379.2,437.6 379.7,437.6 380.2,437.6 380.7,437.6 381.2,437.6 381.7,437.6 382.2,437.6 382.7,437.6 383.2,437.6 383.7,437.6 384.2,437.6 384.7,437.6 385.2,437.6 385.7,437.5 386.2,437.5 386.7,437.5 387.2,437.5 387.7,437.5 388.2,437.5 388.7,437.5 389.2,437.5 389.7,437.5 390.2,437.5 390.7,437.5 391.2,437.5 391.7,437.5 392.2,437.5 392.7,437.5 393.2,437.5 393.7,437.5 394.2,437.5 394.7,437.5 395.2,437.5 395.7,437.5 396.2,437.5 396.7,437.5 397.2,437.5 397.7,437.5 398.2,437.5 398.7,437.5 399.2,437.5 399.7,437.4 400.2,437.4 400.7,437.4 401.2,437.4 401.7,437.4 402.2,437.4 402.7,437.4 403.2,437.4 403.7,437.4 404.2,437.4 404.7,437.4 405.2,437.4 405.7,437.4 406.2,437.4 406.7,437.4 407.2,437.4 407.7,437.4 408.2,437.4 408.7,437.4 409.2,437.4 409.7,437.4 410.2,437.4 410.7,437.4 411.2,437.4 411.7,437.4 412.2,437.4 412.7,437.4 413.2,437.4 413.7,437.3 414.2,437.3 414.7,437.3 415.2,437.3 415.7,437.3 416.2,437.3 416.7,437.3 417.2,437.3 417.7,437.3 418.2,437.3 418.7,437.3 419.2,437.3 419.7,437.3 420.2,437.3 420.7,437.3 421.2,437.3 421.7,437.3 422.2,437.3 422.7,437.3 423.2,437.3 423.7,437.3 424.2,437.3 424.7,437.3 425.2,437.3 425.7,437.3 426.2,437.3 426.7,437.3 427.2,437.3 427.7,437.2 428.2,437.2 428.7,437.2 429.2,437.2 429.7,437.2 430.2,437.2 430.7,437.2 431.2,437.2 431.7,437.2 432.2,437.2 432.7,437.2 433.2,437.2 433.7,437.2 434.2,437.2 434.7,437.2 435.2,437.2 435.7,437.2 436.2,437.2 436.7,437.2 437.2,437.2 437.7,437.2 438.2,437.2 438.7,437.2 439.2,437.2 439.7,437.2 440.2,437.2 440.7,437.2 441.2,437.2 441.7,437.1 442.2,437.1 442.7,437.1 443.2,437.1 443.7,437.1 444.2,437.1 444.7,437.1 445.2,437.1 445.7,437.1 446.2,437.1 446.7,437.1 447.2,437.1 447.7,437.1 448.2,437.1 448.7,437.1 449.2,437.1 449.7,437.1 450.2,437.1 450.7,437.1 451.2,437.1 451.7,437.1 452.2,437.1 452.7,437.1 453.2,437.1 453.7,437.1 454.2,437.1 454.7,437.1 455.2,437.1 455.7,437.0 456.2,437.0 456.7,437.0 457.2,437.0 457.7,437.0 458.2,437.0 458.7,437.0 459.2,437.0 459.7,437.0 460.2,437.0 460.7,437.0 461.2,437.0 461.7,437.0 462.2,437.0 462.7,437.0 463.2,437.0 463.7,437.0 464.2,437.0 464.7,437.0 465.2,437.0 465.7,437.0 466.2,437.0 466.7,437.0 467.2,437.0 467.7,437.0 468.2,437.0 468.7,437.0 469.2,437.0 469.7,436.9 470.2,436.9 470.7,436.9 471.2,436.9 471.7,436.9 472.2,436.9 472.7,436.9 473.2,436.9 473.7,436.9 474.2,436.9 474.7,436.9 475.2,436.9 475.7,436.9 476.2,436.9 476.7,436.9 477.2,436.9 477.7,436.9 478.2,436.9 478.7,436.9 479.2,436.9 479.7,436.9 480.2,436.9 480.7,436.9 481.2,436.9 481.7,436.9 482.2,436.9 482.7,436.9 483.2,436.9 483.7,436.8 484.2,436.8 484.7,436.8 485.2,436.8 485.7,436.8 486.2,436.8 486.7,436.8 487.2,436.8 487.7,436.8 488.2,436.8 488.7,436.8 489.2,436.8 489.7,436.8 490.2,436.8 490.7,436.8 491.2,436.8 491.7,436.8 492.2,436.8 492.7,436.8 493.2,436.8 493.7,436.8 494.2,436.8 494.7,436.8 495.2,436.8 495.7,436.8 496.2,436.8 496.7,436.8 497.2,436.8 497.7,436.7 498.2,436.7 498.7,436.7 499.2,436.7 499.7,436.7 500.2,436.7 500.7,436.7 501.2,436.7 501.7,436.7 502.2,436.7 502.7,436.7 503.2,436.7 503.7,436.7 504.2,436.7 504.7,436.7 505.2,436.7 505.7,436.7 506.2,436.7 506.7,436.7 507.2,436.7 507.7,436.7 508.2,436.7 508.7,436.7 509.2,436.7 509.7,436.7 510.2,436.7 510.7,436.7 511.2,436.7 511.7,436.6 512.2,436.6 512.7,436.6 513.2,436.6 513.7,436.6 514.2,436.6 514.7,436.6 515.2,436.6 515.7,436.6 516.2,436.6 516.7,436.6 517.2,436.5 517.7,436.5 518.2,436.5 518.7,436.5 519.2,436.4 519.7,436.4 520.2,436.3 520.7,436.2 521.2,436.2 521.7,436.1 522.2,436.0 522.7,435.8 523.2,435.7 523.7,435.5 524.2,435.3 524.7,435.1 525.2,434.8 525.7,434.5 526.2,434.2 526.7,433.9 527.2,433.5 527.7,433.1 528.2,432.6 528.7,432.1 529.2,431.6 529.7,431.0 530.2,430.4 530.7,429.8 531.2,429.2 531.7,428.5 532.2,427.8 532.7,427.1 533.2,426.5 533.7,425.8 534.2,425.2 534.7,424.5 535.2,423.9 535.7,423.4 536.2,422.9 536.7,422.5 537.2,422.1 537.7,421.8 538.2,421.5 538.7,421.4 539.2,421.3 539.7,421.3 540.2,421.4 540.7,421.6 541.2,421.8 541.7,422.1 542.2,422.5 542.7,423.0 543.2,423.5 543.7,424.0 544.2,424.6 544.7,425.3 545.2,425.9 545.7,426.6 546.2,427.2 546.7,427.9 547.2,428.6 547.7,429.2 548.2,429.9 548.7,430.5 549.2,431.0 549.7,431.6 550.2,432.1 550.7,432.6 551.2,433.0 551.7,433.4 552.2,433.8 552.7,434.1 553.2,434.4 553.7,434.7 554.2,434.9 554.7,435.1 555.2,435.3 555.7,435.5 556.2,435.6 556.7,435.7 557.2,435.8 557.7,435.9 558.2,436.0 558.7,436.0 559.2,436.1 559.7,436.1 560.2,436.2 560.7,436.2 561.2,436.2 561.7,436.2 562.2,436.2 562.7,436.2 563.2,436.3 563.7,436.3 564.2,436.3 564.7,436.3 565.2,436.3 565.7,436.3 566.2,436.3 566.7,436.3 567.2,436.3 567.7,436.2 568.2,436.2 568.7,436.2 569.2,436.2 569.7,436.2 570.2,436.2 570.7,436.2 571.2,436.2 571.7,436.2 572.2,436.2 572.7,436.2 573.2,436.2 573.7,436.2 574.2,436.2 574.7,436.2 575.2,436.2 575.7,436.2 576.2,436.2 576.7,436.2 577.2,436.2 577.7,436.2 578.2,436.2 578.7,436.2 579.2,436.2 579.7,436.2 580.2,436.2 580.7,436.2 581.2,436.2 581.7,436.2 582.2,436.1 582.7,436.1 583.2,436.1 583.7,436.1 584.2,436.1 584.7,436.1 585.2,436.1 585.7,436.1 586.2,436.1 586.7,436.1 587.2,436.1 587.7,436.1 588.2,436.1 588.7,436.1 589.2,436.1 589.7,436.1 590.2,436.1 590.7,436.1 591.2,436.1 591.7,436.1 592.2,436.1 592.7,436.1 593.2,436.1 593.7,436.1 594.2,436.1 594.7,436.1 595.2,436.1 595.7,436.1 596.2,436.0 596.7,436.0 597.2,436.0 597.7,436.0 598.2,436.0 598.7,436.0 599.2,436.0 599.7,436.0 600.2,436.0 600.7,436.0 601.2,436.0 601.7,436.0" fill="none" stroke="#0000ff" stroke-width="2.2"/>
<polyline points="347.0,437.8 347.5,437.8 348.0,437.8 348.5,437.7 349.0,437.7 349.5,437.7 350.0,437.7 350.5,437.7 351.0,437.6 351.5,437.6 352.0,437.5 352.5,437.5 353.0,437.4 353.5,437.3 354.0,437.2 354.5,437.1 355.0,437.0 355.5,436.8 356.0,436.7 356.5,436.5 357.0,436.3 357.5,436.0 358.0,435.7 358.5,435.4 359.0,435.0 359.5,434.6 360.0,434.2 360.5,433.7 361.0,433.2 361.5,432.5 362.0,431.9 362.5,431.2 363.0,430.4 363.5,429.5 364.0,428.6 364.5,427.6 365.0,426.6 365.5,425.5 366.0,424.3 366.5,423.1 367.0,421.8 367.5,420.5 368.0,419.1 368.5,417.7 369.0,416.3 369.5,414.8 370.0,413.4 370.5,411.9 371.0,410.4 371.5,409.0 372.0,407.6 372.5,406.3 373.0,405.0 373.5,403.8 374.0,402.6 374.5,401.6 375.0,400.6 375.5,399.8 376.0,399.1 376.5,398.5 377.0,398.1 377.5,397.8 378.0,397.6 378.5,397.6 379.0,397.7 379.5,398.0 380.0,398.4 380.5,399.0 381.0,399.7 381.5,400.5 382.0,401.4 382.5,402.4 383.0,403.5 383.5,404.7 384.0,406.0 384.5,407.3 385.0,408.7 385.5,410.1 386.0,411.6 386.5,413.0 387.0,414.5 387.5,415.9 388.0,417.4 388.5,418.8 389.0,420.1 389.5,421.5 390.0,422.7 390.5,424.0 391.0,425.1 391.5,426.2 392.0,427.3 392.5,428.3 393.0,429.2 393.5,430.0 394.0,430.8 394.5,431.5 395.0,432.2 395.5,432.8 396.0,433.4 396.5,433.9 397.0,434.3 397.5,434.7 398.0,435.1 398.5,435.4 399.0,435.7 399.5,435.9 400.0,436.1 400.5,436.3 401.0,436.5 401.5,436.6 402.0,436.8 402.5,436.9 403.0,436.9 403.5,437.0 404.0,437.1 404.5,437.1 405.0,437.2 405.5,437.2 406.0,437.3 406.5,437.3 407.0,437.3 407.5,437.3 408.0,437.3 408.5,437.3 409.0,437.3 409.5,437.3 410.0,437.3 410.5,437.3 411.0,437.4 411.5,437.4 412.0,437.3 412.5,437.3 413.0,437.3 413.5,437.3 414.0,437.3 414.5,437.3 415.0,437.3 415.5,437.3" fill="none" stroke="#ff0000" stroke-width="2.2"/>
<rect x="336.2" y="254.7" width="266.7" height="215.1" fill="none" stroke="#000" stroke-width="1.9"/>
<path d="M353.2,469.8 L353.2,474.40000000000003 M373.6,469.8 L373.6,472.0 M393.9,469.8 L393.9,474.40000000000003 M414.3,469.8 L414.3,472.0 M434.6,469.8 L434.6,474.40000000000003 M455.0,469.8 L455.0,472.0 M475.3,469.8 L475.3,474.40000000000003 M495.7,469.8 L495.7,472.0 M516.1,469.8 L516.1,474.40000000000003 M536.4,469.8 L536.4,472.0 M556.8,469.8 L556.8,474.40000000000003 M577.1,469.8 L577.1,472.0 M597.5,469.8 L597.5,474.40000000000003" stroke="#000" stroke-width="1.6"/>
<text x="342.4" y="487.7" font-size="13" text-anchor="start" fill="#000" font-weight="bold" stroke="#000" stroke-width="0.35" textLength="20.9" lengthAdjust="spacingAndGlyphs">930</text>
<text x="383.2" y="487.7" font-size="13" text-anchor="start" fill="#000" font-weight="bold" stroke="#000" stroke-width="0.35" textLength="20.9" lengthAdjust="spacingAndGlyphs">935</text>
<text x="423.9" y="487.7" font-size="13" text-anchor="start" fill="#000" font-weight="bold" stroke="#000" stroke-width="0.35" textLength="20.9" lengthAdjust="spacingAndGlyphs">940</text>
<text x="464.6" y="487.7" font-size="13" text-anchor="start" fill="#000" font-weight="bold" stroke="#000" stroke-width="0.35" textLength="20.9" lengthAdjust="spacingAndGlyphs">945</text>
<text x="505.3" y="487.7" font-size="13" text-anchor="start" fill="#000" font-weight="bold" stroke="#000" stroke-width="0.35" textLength="20.9" lengthAdjust="spacingAndGlyphs">950</text>
<text x="546.0" y="487.7" font-size="13" text-anchor="start" fill="#000" font-weight="bold" stroke="#000" stroke-width="0.35" textLength="20.9" lengthAdjust="spacingAndGlyphs">955</text>
<text x="586.7" y="487.7" font-size="13" text-anchor="start" fill="#000" font-weight="bold" stroke="#000" stroke-width="0.35" textLength="20.9" lengthAdjust="spacingAndGlyphs">960</text>
<text x="412.9" y="503.6" font-size="13.5" text-anchor="start" fill="#000" font-weight="bold" stroke="#000" stroke-width="0.35" textLength="122.4" lengthAdjust="spacingAndGlyphs">Binding energy (eV)</text>
<text x="323" y="359.4" font-size="13.5" text-anchor="middle" fill="#000" font-weight="bold" stroke="#000" stroke-width="0.35" transform="rotate(-90 323 359.4)" textLength="47.3" lengthAdjust="spacingAndGlyphs">Intensity</text>
<text x="383.4" y="292.1" font-size="9.5" text-anchor="start" fill="#000" font-weight="bold" stroke="#000" stroke-width="0.35" textLength="29.7" lengthAdjust="spacingAndGlyphs">933.16</text>
<text x="446.2" y="336.6" font-size="13.5" text-anchor="start" fill="#000" font-weight="bold" stroke="#000" stroke-width="0.35" textLength="20.9" lengthAdjust="spacingAndGlyphs">942</text>
<text x="527.3" y="320.9" font-size="13.5" text-anchor="start" fill="#000" font-weight="bold" stroke="#000" stroke-width="0.35" textLength="31" lengthAdjust="spacingAndGlyphs">952.9</text>
<text x="513.7" y="290.2" font-size="13" text-anchor="start" fill="#000" font-weight="bold" stroke="#000" stroke-width="0.35" textLength="82.7" lengthAdjust="spacingAndGlyphs">Cu-NCs+ClO</text>
<text x="596.5" y="283" font-size="7.5" text-anchor="start" fill="#000" font-weight="bold" stroke="#000" stroke-width="0.2" >-</text>
<text x="388.5" y="400.9" font-size="13.5" text-anchor="start" fill="#000" font-weight="bold" stroke="#000" stroke-width="0.35" textLength="38.3" lengthAdjust="spacingAndGlyphs">933.15</text>
<text x="531.5" y="409.6" font-size="13.5" text-anchor="start" fill="#000" font-weight="bold" stroke="#000" stroke-width="0.35" textLength="39.4" lengthAdjust="spacingAndGlyphs">952.82</text>
<text x="551.8" y="392.7" font-size="13.5" text-anchor="start" fill="#000" font-weight="bold" stroke="#000" stroke-width="0.35" textLength="47.7" lengthAdjust="spacingAndGlyphs">Cu-NCs</text>
</svg></body></html>
